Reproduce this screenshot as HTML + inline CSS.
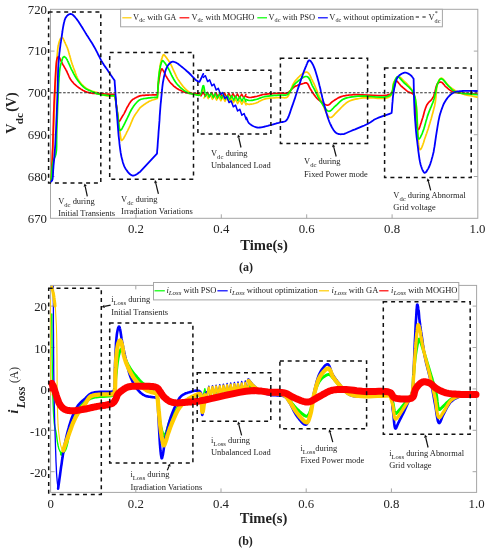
<!DOCTYPE html>
<html><head><meta charset="utf-8"><style>
html,body{margin:0;padding:0;background:#fff;}
svg{display:block;}
text{font-family:'Liberation Serif','Times New Roman',serif;fill:#222;}
</style></head><body>
<svg width="489" height="550" viewBox="0 0 489 550">
<rect width="489" height="550" fill="#fff"/>
<rect x="50.5" y="9.3" width="427.3" height="209.0" fill="none" stroke="#a6a6a6" stroke-width="1"/>
<line x1="50.5" y1="176.5" x2="54.5" y2="176.5" stroke="#a6a6a6" stroke-width="1"/>
<line x1="477.8" y1="176.5" x2="473.8" y2="176.5" stroke="#a6a6a6" stroke-width="1"/>
<line x1="50.5" y1="134.70000000000002" x2="54.5" y2="134.70000000000002" stroke="#a6a6a6" stroke-width="1"/>
<line x1="477.8" y1="134.70000000000002" x2="473.8" y2="134.70000000000002" stroke="#a6a6a6" stroke-width="1"/>
<line x1="50.5" y1="92.90000000000002" x2="54.5" y2="92.90000000000002" stroke="#a6a6a6" stroke-width="1"/>
<line x1="477.8" y1="92.90000000000002" x2="473.8" y2="92.90000000000002" stroke="#a6a6a6" stroke-width="1"/>
<line x1="50.5" y1="51.10000000000002" x2="54.5" y2="51.10000000000002" stroke="#a6a6a6" stroke-width="1"/>
<line x1="477.8" y1="51.10000000000002" x2="473.8" y2="51.10000000000002" stroke="#a6a6a6" stroke-width="1"/>
<line x1="135.9" y1="218.3" x2="135.9" y2="214.3" stroke="#a6a6a6" stroke-width="1"/>
<line x1="135.9" y1="9.3" x2="135.9" y2="13.3" stroke="#a6a6a6" stroke-width="1"/>
<line x1="221.3" y1="218.3" x2="221.3" y2="214.3" stroke="#a6a6a6" stroke-width="1"/>
<line x1="221.3" y1="9.3" x2="221.3" y2="13.3" stroke="#a6a6a6" stroke-width="1"/>
<line x1="306.7" y1="218.3" x2="306.7" y2="214.3" stroke="#a6a6a6" stroke-width="1"/>
<line x1="306.7" y1="9.3" x2="306.7" y2="13.3" stroke="#a6a6a6" stroke-width="1"/>
<line x1="392.1" y1="218.3" x2="392.1" y2="214.3" stroke="#a6a6a6" stroke-width="1"/>
<line x1="392.1" y1="9.3" x2="392.1" y2="13.3" stroke="#a6a6a6" stroke-width="1"/>
<polyline points="51.2,181.0 51.4,177.1 51.6,173.2 51.8,169.4 52.0,165.5 52.2,161.6 52.4,157.7 52.6,153.9 52.8,150.0 53.0,146.2 53.1,142.4 53.3,138.7 53.4,134.9 53.6,131.2 53.7,127.4 53.9,123.7 54.0,120.0 54.2,116.4 54.3,112.9 54.5,109.3 54.6,105.7 54.8,102.2 54.9,98.7 55.1,95.3 55.2,92.0 55.3,89.1 55.4,86.1 55.5,83.1 55.6,80.2 55.7,77.4 55.8,74.7 55.9,72.2 56.0,70.0 56.1,68.7 56.1,67.6 56.2,66.5 56.3,65.4 56.4,64.4 56.4,63.4 56.5,62.4 56.6,61.4 56.7,60.5 56.8,59.5 56.9,58.6 56.9,57.7 57.0,56.8 57.1,55.9 57.2,55.0 57.3,54.1 57.4,53.2 57.5,52.3 57.5,51.3 57.6,50.4 57.7,49.5 57.8,48.6 57.9,47.7 58.0,46.8 58.1,46.0 58.3,45.2 58.5,44.5 58.7,43.7 58.9,43.0 59.1,42.3 59.3,41.6 59.5,41.0 59.7,40.6 59.8,40.1 60.0,39.7 60.2,39.3 60.4,38.9 60.6,38.5 60.8,38.2 61.0,38.0 61.1,37.9 61.2,37.8 61.4,37.6 61.5,37.6 61.6,37.5 61.8,37.4 61.9,37.4 62.0,37.4 62.2,37.5 62.3,37.6 62.5,37.7 62.6,37.9 62.8,38.1 62.9,38.3 63.1,38.6 63.2,38.8 63.4,39.1 63.6,39.4 63.7,39.8 63.9,40.1 64.1,40.5 64.2,40.9 64.4,41.4 64.6,41.8 64.9,42.5 65.3,43.2 65.6,44.0 66.0,44.9 66.4,45.7 66.8,46.6 67.2,47.4 67.5,48.3 67.8,49.2 68.1,50.1 68.4,51.0 68.7,51.9 68.9,52.8 69.2,53.8 69.4,54.7 69.7,55.6 70.0,56.5 70.2,57.4 70.5,58.3 70.7,59.2 71.0,60.2 71.2,61.1 71.5,62.0 71.8,62.9 72.1,63.8 72.4,64.8 72.8,65.7 73.1,66.6 73.4,67.6 73.8,68.5 74.1,69.4 74.5,70.4 74.9,71.4 75.2,72.5 75.6,73.5 76.0,74.6 76.3,75.6 76.8,76.6 77.2,77.6 77.7,78.6 78.2,79.5 78.8,80.4 79.3,81.2 79.9,82.1 80.6,82.9 81.2,83.7 81.9,84.5 82.6,85.2 83.3,85.9 84.1,86.6 84.9,87.3 85.7,87.9 86.5,88.5 87.4,89.1 88.3,89.6 89.2,90.1 90.2,90.5 91.2,90.9 92.2,91.2 93.2,91.5 94.3,91.7 95.3,92.0 96.4,92.3 97.4,92.6 98.4,93.0 99.3,93.3 100.2,93.7 101.1,94.2 102.1,94.5 103.0,94.9 104.0,95.2 105.0,95.5 106.2,95.7 107.4,95.9 108.6,96.0 109.9,96.0 111.2,96.1 112.5,96.1 113.7,96.1 115.0,96.2 115.4,99.2 115.9,102.3 116.4,105.3 116.8,108.4 117.3,111.4 117.7,114.4 118.1,117.2 118.5,120.0 118.8,122.2 119.1,124.5 119.3,126.7 119.6,128.8 119.8,130.9 120.0,132.8 120.3,134.5 120.5,136.0 120.6,136.7 120.7,137.4 120.8,138.1 120.9,138.8 121.0,139.3 121.1,139.8 121.3,140.1 121.5,140.3 121.6,140.3 121.8,140.3 121.9,140.2 122.1,140.1 122.3,140.0 122.5,139.8 122.6,139.7 122.8,139.5 123.1,139.1 123.4,138.7 123.7,138.2 124.0,137.7 124.3,137.1 124.6,136.5 125.0,135.8 125.3,135.2 125.8,134.3 126.3,133.3 126.8,132.2 127.4,131.1 128.0,129.9 128.5,128.8 129.1,127.6 129.6,126.5 130.2,125.3 130.7,124.0 131.2,122.7 131.8,121.4 132.3,120.2 132.8,118.9 133.4,117.7 134.0,116.6 134.5,115.7 135.1,114.8 135.7,113.9 136.3,113.0 136.9,112.2 137.4,111.4 137.9,110.7 138.4,110.1 138.6,109.8 138.8,109.5 139.0,109.2 139.2,108.9 139.3,108.7 139.5,108.4 139.7,108.2 140.0,107.9 140.5,107.4 141.2,106.8 141.9,106.3 142.6,105.7 143.4,105.1 144.2,104.5 145.0,104.0 145.7,103.5 146.2,103.1 146.8,102.8 147.3,102.5 147.8,102.2 148.3,101.9 148.8,101.6 149.4,101.3 150.0,101.0 150.8,100.7 151.7,100.3 152.6,100.0 153.6,99.7 154.5,99.4 155.5,99.1 156.5,98.8 157.4,98.5 157.6,94.9 157.9,91.1 158.1,87.3 158.3,83.5 158.6,79.8 158.8,76.3 159.1,73.0 159.5,70.0 159.8,68.2 160.0,66.4 160.3,64.8 160.6,63.2 161.0,61.7 161.3,60.3 161.6,59.1 162.0,58.0 162.2,57.4 162.4,56.9 162.6,56.3 162.8,55.8 163.0,55.4 163.2,55.0 163.5,54.8 163.7,54.7 163.9,54.7 164.1,54.8 164.3,55.0 164.5,55.3 164.8,55.5 165.0,55.9 165.2,56.2 165.5,56.5 166.0,57.1 166.5,57.7 167.0,58.4 167.5,59.2 168.1,60.0 168.7,60.9 169.3,61.8 169.9,62.8 170.9,64.6 171.9,66.7 172.9,69.0 174.0,71.4 175.2,73.9 176.3,76.3 177.5,78.6 178.8,80.6 180.0,82.3 181.2,83.9 182.4,85.6 183.7,87.1 185.1,88.6 186.4,89.9 187.7,91.0 189.0,92.0 190.0,92.6 191.0,93.0 192.0,93.4 193.0,93.7 194.0,94.0 194.9,94.2 195.8,94.4 196.6,94.6 197.1,94.7 197.6,94.9 198.0,95.0 198.4,95.1 198.8,95.2 199.2,95.2 199.6,95.1 200.0,95.0 200.5,94.7 200.9,94.2 201.3,93.6 201.7,92.9 202.1,92.2 202.5,91.4 202.9,90.7 203.3,90.0" fill="none" stroke="#ffcc00" stroke-width="1.7" stroke-linejoin="round" stroke-linecap="round"/><polyline points="204.0,98.0 206.1,94.3 208.2,98.7 210.3,95.0 212.4,99.4 214.5,95.8 216.6,100.1 218.7,96.5 220.8,100.8 222.9,97.2 225.0,101.5 227.1,97.8 229.2,102.2 231.3,98.5 233.4,102.9 235.5,99.2 237.6,103.6 239.7,100.0 241.8,104.3 243.9,100.7 246.0,105.0" fill="none" stroke="#ffcc00" stroke-width="1.5" stroke-linejoin="round" stroke-linecap="round"/><polyline points="246.0,103.5 246.4,103.6 246.7,103.7 247.1,103.9 247.4,104.0 247.8,104.1 248.2,104.2 248.6,104.3 249.0,104.3 249.7,104.3 250.5,104.2 251.4,104.1 252.3,104.0 253.2,103.8 254.2,103.5 255.1,103.3 256.0,103.0 257.0,102.6 258.0,102.2 259.0,101.6 260.0,101.1 261.1,100.5 262.1,100.0 263.3,99.5 264.5,99.1 266.2,98.7 268.2,98.4 270.2,98.1 272.3,98.0 274.4,97.8 276.4,97.7 278.3,97.6 280.0,97.5 281.0,97.5 282.0,97.5 283.0,97.6 283.9,97.7 284.8,97.8 285.6,97.7 286.3,97.6 287.0,97.3 287.5,96.9 288.0,96.4 288.4,95.8 288.7,95.1 289.0,94.3 289.3,93.6 289.6,92.8 290.0,92.0 290.5,90.9 291.0,89.7 291.4,88.4 291.9,87.1 292.4,85.7 293.0,84.4 293.7,83.1 294.5,81.9 295.7,80.4 297.2,78.7 298.8,77.0 300.5,75.4 302.3,74.0 303.9,72.9 305.5,72.2 306.8,72.1 307.8,72.5 308.6,73.3 309.4,74.4 310.1,75.7 310.8,77.2 311.5,78.8 312.3,80.4 313.0,81.9 314.1,84.0 315.1,86.3 316.1,88.8 317.2,91.4 318.2,94.0 319.3,96.6 320.4,99.1 321.5,101.5 322.5,103.8 323.6,106.3 324.6,108.9 325.6,111.4 326.7,113.7 327.8,115.5 328.9,116.9 330.1,117.5 331.0,117.5 331.9,117.0 332.7,116.3 333.7,115.4 334.6,114.4 335.5,113.3 336.5,112.3 337.5,111.3 338.8,110.1 340.0,108.9 341.3,107.5 342.7,106.2 344.0,104.8 345.5,103.6 346.9,102.4 348.5,101.5 350.1,100.7 351.8,100.1 353.6,99.6 355.4,99.2 357.3,98.8 359.2,98.5 361.2,98.2 363.3,97.9 366.4,97.7 370.0,97.8 373.8,98.0 377.7,98.3 381.4,98.4 384.9,98.3 387.8,97.7 390.0,96.6 391.1,95.3 391.9,93.6 392.3,91.6 392.6,89.5 392.8,87.4 393.0,85.3 393.3,83.5 393.9,82.0 394.4,81.1 395.0,80.2 395.5,79.3 396.2,78.6 396.8,77.9 397.4,77.3 398.1,77.0 398.7,76.8 399.3,76.9 400.0,77.1 400.6,77.6 401.3,78.1 401.9,78.8 402.6,79.5 403.3,80.3 404.0,81.0 405.2,82.2 406.5,83.4 407.8,84.8 409.2,86.3 410.5,87.9 411.8,89.7 413.0,91.7 414.0,94.0 415.5,99.7 416.5,107.6 417.1,116.6 417.6,126.0 418.0,134.9 418.4,142.4 419.0,147.6 420.0,149.6 420.7,149.3 421.4,148.2 422.1,146.6 422.9,144.5 423.7,142.2 424.4,139.8 425.2,137.5 425.9,135.4 426.7,133.2 427.5,130.8 428.3,128.4 429.0,126.0 429.8,123.5 430.5,121.1 431.2,118.8 431.8,116.5 432.3,114.6 432.8,112.9 433.3,111.1 433.7,109.4 434.1,107.7 434.6,106.0 434.9,104.2 435.3,102.3 435.6,100.0 435.9,97.5 436.1,94.9 436.3,92.2 436.5,89.7 436.8,87.3 437.2,85.2 437.7,83.4 438.0,82.5 438.4,81.6 438.8,80.7 439.2,79.9 439.7,79.3 440.1,78.7 440.6,78.4 441.2,78.2 442.1,78.4 443.0,79.1 444.1,80.2 445.2,81.6 446.4,83.1 447.6,84.5 448.8,85.9 450.0,87.0 451.2,87.9 452.3,88.7 453.5,89.5 454.7,90.3 455.9,91.0 457.2,91.7 458.6,92.4 460.0,93.0 461.9,93.7 463.9,94.3 466.0,94.8 468.2,95.3 470.4,95.7 472.6,96.2 474.8,96.6 477.0,97.1" fill="none" stroke="#ffcc00" stroke-width="1.7" stroke-linejoin="round" stroke-linecap="round"/>
<polyline points="51.2,181.0 51.3,178.1 51.5,175.2 51.6,172.3 51.8,169.5 51.9,166.6 52.0,163.7 52.2,160.7 52.3,157.7 52.4,154.4 52.5,151.1 52.7,147.7 52.8,144.2 52.9,140.8 53.0,137.4 53.1,133.9 53.2,130.5 53.3,127.0 53.4,123.5 53.5,119.9 53.6,116.4 53.7,112.9 53.9,109.5 54.0,106.2 54.1,103.0 54.2,100.6 54.3,98.2 54.4,95.9 54.5,93.7 54.7,91.5 54.8,89.3 54.9,87.1 55.0,85.0 55.1,83.0 55.2,81.1 55.3,79.1 55.4,77.2 55.5,75.3 55.6,73.4 55.7,71.7 55.8,70.0 55.9,68.8 56.0,67.6 56.1,66.4 56.2,65.3 56.3,64.2 56.4,63.2 56.5,62.3 56.6,61.4 56.7,60.9 56.7,60.4 56.8,59.9 56.9,59.5 56.9,59.1 57.0,58.7 57.2,58.3 57.3,58.0 57.4,57.8 57.6,57.5 57.7,57.3 57.9,57.1 58.1,56.9 58.3,56.8 58.4,56.7 58.6,56.7 58.8,56.8 59.0,56.9 59.2,57.1 59.3,57.4 59.5,57.6 59.7,57.9 59.8,58.2 60.0,58.5 60.1,58.8 60.3,59.0 60.4,59.3 60.5,59.6 60.6,59.8 60.7,60.1 60.8,60.4 60.9,60.7 61.1,61.0 61.2,61.4 61.4,61.7 61.6,62.1 61.8,62.4 62.0,62.8 62.2,63.2 62.4,63.6 62.8,64.3 63.2,65.1 63.7,65.9 64.2,66.8 64.7,67.7 65.3,68.6 65.8,69.6 66.3,70.5 66.9,71.7 67.4,72.9 68.0,74.2 68.6,75.5 69.2,76.8 69.8,78.0 70.5,79.2 71.2,80.3 71.9,81.2 72.7,82.1 73.4,83.0 74.2,83.8 75.1,84.6 75.9,85.3 76.8,86.1 77.7,86.8 78.6,87.5 79.6,88.2 80.6,88.9 81.7,89.6 82.7,90.2 83.8,90.7 84.8,91.3 85.9,91.7 86.9,92.1 87.9,92.3 88.9,92.6 89.9,92.8 90.9,93.0 91.9,93.1 93.0,93.3 94.1,93.4 95.4,93.5 96.7,93.7 98.1,93.7 99.5,93.8 100.9,93.8 102.3,93.9 103.6,93.9 105.0,94.0 106.3,94.1 107.5,94.1 108.8,94.2 110.0,94.3 111.3,94.3 112.5,94.4 113.8,94.4 115.0,94.5 115.3,97.0 115.7,99.6 116.0,102.3 116.3,104.9 116.7,107.5 117.0,109.9 117.3,112.1 117.5,114.0 117.6,114.9 117.7,115.8 117.8,116.7 117.9,117.5 118.0,118.2 118.1,118.9 118.2,119.5 118.3,120.0 118.4,120.2 118.5,120.5 118.5,120.7 118.6,120.9 118.7,121.0 118.8,121.2 118.9,121.3 119.0,121.3 119.1,121.3 119.2,121.2 119.4,121.2 119.5,121.1 119.6,120.9 119.8,120.8 119.9,120.6 120.0,120.5 120.1,120.3 120.2,120.2 120.3,120.0 120.4,119.8 120.5,119.5 120.6,119.3 120.8,119.1 120.9,118.8 121.2,118.3 121.6,117.7 122.0,117.0 122.4,116.3 122.9,115.6 123.3,114.9 123.8,114.1 124.2,113.4 124.6,112.6 125.0,111.8 125.4,111.0 125.8,110.1 126.2,109.3 126.6,108.4 127.0,107.6 127.5,106.8 128.0,106.0 128.5,105.1 129.0,104.2 129.5,103.3 130.1,102.5 130.6,101.7 131.2,100.9 131.8,100.3 132.3,99.8 132.8,99.4 133.4,99.0 134.0,98.7 134.5,98.4 135.1,98.1 135.7,97.8 136.2,97.5 136.7,97.3 137.1,97.0 137.6,96.8 138.0,96.6 138.5,96.4 139.0,96.2 139.5,96.1 140.0,95.9 140.6,95.7 141.3,95.6 142.0,95.5 142.6,95.4 143.4,95.4 144.1,95.3 144.9,95.3 145.7,95.2 147.0,95.1 148.3,95.1 149.8,95.0 151.3,95.0 152.8,94.9 154.4,94.9 155.9,94.8 157.4,94.8 157.5,93.3 157.7,91.9 157.8,90.4 157.9,89.0 158.0,87.5 158.2,86.1 158.3,84.6 158.5,83.2 158.7,81.7 158.9,80.2 159.2,78.7 159.4,77.1 159.7,75.7 159.9,74.3 160.2,73.1 160.5,72.0 160.7,71.5 160.8,70.9 160.9,70.4 161.1,70.0 161.3,69.5 161.4,69.2 161.6,69.0 161.8,68.9 162.0,68.9 162.2,69.1 162.4,69.3 162.6,69.6 162.8,69.9 163.1,70.3 163.3,70.7 163.5,71.0 163.8,71.5 164.1,72.1 164.4,72.7 164.7,73.3 165.0,74.0 165.3,74.6 165.6,75.3 166.0,76.0 166.5,76.8 167.0,77.7 167.6,78.6 168.2,79.6 168.8,80.5 169.4,81.4 170.1,82.3 170.8,83.1 171.6,83.9 172.4,84.7 173.2,85.5 174.1,86.3 175.0,87.0 175.9,87.7 176.9,88.4 177.9,89.0 179.1,89.7 180.4,90.3 181.8,91.0 183.2,91.6 184.7,92.1 186.1,92.6 187.6,93.0 189.0,93.3 190.4,93.5 191.7,93.6 193.1,93.7 194.5,93.7 195.9,93.7 197.2,93.6 198.6,93.6 200.0,93.6" fill="none" stroke="#ff0000" stroke-width="1.7" stroke-linejoin="round" stroke-linecap="round"/><polyline points="201.0,96.0 203.1,92.1 205.3,96.2 207.4,92.3 209.6,96.4 211.7,92.5 213.9,96.7 216.0,92.8 218.1,96.9 220.3,93.0 222.4,97.1 224.6,93.2 226.7,97.3 228.9,93.4 231.0,97.5 233.1,93.6 235.3,97.8 237.4,93.9 239.6,98.0 241.7,94.1 243.9,98.2 246.0,94.3" fill="none" stroke="#ff0000" stroke-width="1.5" stroke-linejoin="round" stroke-linecap="round"/><polyline points="246.0,96.5 246.4,96.6 246.7,96.8 247.1,96.9 247.4,97.1 247.8,97.2 248.2,97.3 248.6,97.4 249.0,97.5 249.7,97.5 250.5,97.5 251.4,97.4 252.3,97.2 253.2,97.1 254.1,96.9 255.1,96.7 256.0,96.5 257.0,96.3 258.0,96.0 259.0,95.7 260.0,95.4 261.1,95.1 262.2,94.8 263.3,94.5 264.5,94.3 266.2,94.1 268.2,93.9 270.2,93.7 272.3,93.6 274.4,93.5 276.4,93.4 278.3,93.3 280.0,93.2 281.1,93.2 282.1,93.2 283.1,93.2 284.0,93.3 284.9,93.3 285.7,93.3 286.5,93.2 287.2,93.0 287.6,92.8 288.0,92.6 288.4,92.4 288.7,92.2 289.0,91.9 289.3,91.6 289.6,91.3 290.0,91.0 290.5,90.5 291.0,90.0 291.5,89.5 292.1,88.9 292.6,88.3 293.2,87.8 293.8,87.3 294.5,86.8 295.3,86.3 296.2,85.9 297.2,85.5 298.1,85.1 299.1,84.7 300.1,84.4 301.0,84.1 301.9,83.9 302.6,83.7 303.2,83.5 303.9,83.3 304.5,83.1 305.1,82.9 305.7,82.9 306.3,82.9 306.8,83.1 307.4,83.5 307.9,84.1 308.3,84.8 308.7,85.7 309.1,86.6 309.5,87.5 310.0,88.4 310.5,89.3 311.2,90.3 311.9,91.4 312.6,92.6 313.4,93.7 314.2,94.9 315.0,95.9 315.8,97.0 316.6,97.9 317.3,98.6 318.1,99.3 318.9,100.0 319.7,100.6 320.5,101.2 321.3,101.8 322.0,102.3 322.8,102.8 323.4,103.2 324.0,103.6 324.7,104.1 325.3,104.5 325.9,104.8 326.5,105.0 327.1,105.2 327.7,105.2 328.3,105.0 328.9,104.7 329.5,104.3 330.1,103.8 330.7,103.2 331.3,102.6 331.9,102.0 332.6,101.5 333.5,100.9 334.5,100.2 335.5,99.5 336.6,98.9 337.7,98.2 338.8,97.6 340.0,97.1 341.2,96.6 342.5,96.2 343.9,95.8 345.3,95.6 346.7,95.3 348.2,95.2 349.8,95.0 351.5,94.9 353.4,94.7 357.3,94.6 362.1,94.8 367.4,95.1 372.9,95.4 378.2,95.6 383.1,95.5 387.1,95.1 390.0,94.2 390.9,93.6 391.5,92.9 392.1,92.2 392.5,91.4 392.9,90.6 393.2,89.8 393.5,88.9 393.9,88.1 394.3,87.2 394.5,86.1 394.8,85.0 395.0,83.8 395.3,82.8 395.6,81.9 395.9,81.3 396.3,81.0 396.8,81.1 397.3,81.4 397.8,82.0 398.4,82.7 399.0,83.5 399.7,84.3 400.3,85.1 401.0,85.8 401.8,86.5 402.7,87.3 403.6,88.1 404.5,88.9 405.4,89.7 406.3,90.4 407.2,91.1 408.1,91.7 408.8,92.1 409.6,92.4 410.3,92.7 411.0,92.9 411.7,93.2 412.4,93.5 413.0,94.0 413.6,94.7 414.6,97.2 415.1,100.9 415.4,105.3 415.6,110.2 415.7,115.1 415.7,119.6 416.0,123.4 416.4,126.0 416.6,126.7 416.8,127.3 417.1,127.9 417.3,128.5 417.5,128.9 417.8,129.2 418.0,129.4 418.3,129.5 418.8,129.2 419.2,128.3 419.7,127.1 420.2,125.6 420.7,123.9 421.3,122.2 421.8,120.4 422.3,118.9 422.9,117.2 423.4,115.4 423.9,113.5 424.4,111.6 425.0,109.7 425.6,107.9 426.3,106.2 427.0,104.7 427.7,103.7 428.4,102.8 429.2,101.9 430.0,101.2 430.8,100.4 431.6,99.5 432.3,98.6 433.0,97.6 433.7,96.0 434.3,94.1 434.9,92.0 435.4,89.9 435.9,87.8 436.4,86.0 437.0,84.5 437.7,83.4 438.1,83.0 438.5,82.7 439.0,82.5 439.4,82.3 439.8,82.2 440.3,82.1 440.8,82.1 441.2,82.2 441.8,82.4 442.4,82.9 442.9,83.4 443.5,84.1 444.1,84.8 444.7,85.6 445.3,86.3 446.0,86.9 446.8,87.5 447.5,88.2 448.3,88.9 449.1,89.5 450.0,90.1 450.9,90.7 451.9,91.2 453.1,91.7 455.4,92.3 458.0,92.8 461.0,93.1 464.1,93.3 467.4,93.5 470.7,93.6 473.9,93.8 477.0,94.0" fill="none" stroke="#ff0000" stroke-width="1.7" stroke-linejoin="round" stroke-linecap="round"/>
<polyline points="51.2,181.0 51.4,178.5 51.6,175.9 51.8,173.2 52.0,170.6 52.2,168.0 52.5,165.6 52.8,163.4 53.2,161.4 53.5,160.3 53.8,159.4 54.2,158.5 54.6,157.7 55.0,156.9 55.3,156.1 55.6,155.1 55.9,154.0 56.2,151.8 56.5,149.3 56.6,146.5 56.6,143.6 56.6,140.5 56.7,137.2 56.7,133.9 56.8,130.5 57.0,125.4 57.2,119.6 57.4,113.4 57.6,107.1 57.9,100.9 58.1,94.9 58.4,89.6 58.6,85.0 58.7,82.8 58.9,80.6 59.0,78.7 59.1,76.8 59.3,75.1 59.4,73.4 59.5,71.9 59.7,70.5 59.8,69.7 59.9,68.9 60.0,68.2 60.1,67.5 60.2,66.9 60.3,66.2 60.5,65.6 60.6,65.0 60.7,64.5 60.8,64.0 61.0,63.6 61.1,63.2 61.3,62.7 61.4,62.3 61.6,61.9 61.7,61.4 61.8,60.9 62.0,60.4 62.1,59.8 62.3,59.3 62.4,58.7 62.6,58.3 62.8,57.8 63.0,57.5 63.1,57.3 63.3,57.2 63.4,57.0 63.6,56.9 63.7,56.8 63.9,56.8 64.0,56.7 64.2,56.7 64.4,56.7 64.5,56.8 64.7,56.9 64.9,57.0 65.0,57.1 65.2,57.2 65.3,57.4 65.5,57.5 65.7,57.7 65.8,57.8 66.0,58.0 66.2,58.2 66.3,58.5 66.5,58.7 66.6,58.9 66.8,59.2 67.1,59.6 67.3,60.1 67.5,60.6 67.8,61.2 68.1,61.7 68.3,62.3 68.6,63.0 68.9,63.6 69.3,64.5 69.8,65.5 70.2,66.6 70.7,67.6 71.2,68.8 71.7,69.9 72.3,70.9 72.8,72.0 73.4,73.1 73.9,74.1 74.5,75.2 75.1,76.2 75.7,77.3 76.3,78.3 77.0,79.3 77.7,80.3 78.4,81.3 79.2,82.3 80.0,83.3 80.8,84.2 81.6,85.1 82.5,86.0 83.4,86.8 84.3,87.6 85.2,88.3 86.2,88.9 87.3,89.4 88.3,89.9 89.4,90.4 90.4,90.8 91.5,91.3 92.5,91.7 93.4,92.1 94.3,92.5 95.2,92.9 96.1,93.3 97.0,93.6 97.9,93.9 98.9,94.2 100.0,94.5 101.6,94.8 103.4,95.0 105.2,95.2 107.2,95.4 109.1,95.5 111.1,95.6 113.1,95.7 115.0,95.9 115.4,98.7 115.8,101.6 116.2,104.6 116.6,107.5 117.0,110.3 117.4,113.1 117.7,115.7 118.0,118.0 118.2,119.5 118.3,120.9 118.5,122.3 118.6,123.7 118.8,124.9 118.9,126.1 119.0,127.1 119.2,128.0 119.3,128.4 119.3,128.8 119.4,129.2 119.5,129.6 119.6,129.9 119.6,130.2 119.8,130.4 119.9,130.5 120.0,130.5 120.1,130.5 120.3,130.5 120.4,130.4 120.6,130.3 120.7,130.2 120.9,130.1 121.0,130.0 121.3,129.7 121.5,129.4 121.8,129.0 122.0,128.6 122.3,128.1 122.5,127.6 122.8,127.0 123.1,126.5 123.6,125.6 124.1,124.6 124.7,123.5 125.2,122.4 125.8,121.2 126.4,120.0 126.9,118.8 127.5,117.7 128.0,116.6 128.6,115.5 129.1,114.3 129.6,113.2 130.1,112.1 130.7,111.0 131.2,110.0 131.8,109.0 132.3,108.2 132.9,107.3 133.4,106.5 133.9,105.8 134.5,105.0 135.1,104.3 135.6,103.6 136.2,103.0 136.6,102.5 137.1,102.0 137.5,101.6 137.9,101.2 138.4,100.8 138.9,100.4 139.4,100.0 140.0,99.7 141.0,99.3 142.2,99.0 143.4,98.7 144.8,98.5 146.1,98.3 147.5,98.1 148.8,97.9 150.0,97.8 151.0,97.7 151.9,97.6 152.9,97.5 153.8,97.5 154.7,97.4 155.6,97.4 156.5,97.4 157.4,97.3 157.6,94.5 157.8,91.5 157.9,88.6 158.1,85.7 158.3,82.8 158.5,80.0 158.7,77.4 159.0,75.0 159.2,73.4 159.4,71.8 159.7,70.3 159.9,68.8 160.2,67.5 160.4,66.2 160.7,65.0 161.0,64.0 161.2,63.4 161.3,62.9 161.5,62.4 161.7,61.9 161.9,61.4 162.1,61.1 162.3,60.8 162.5,60.7 162.7,60.7 162.9,60.8 163.2,61.0 163.4,61.2 163.7,61.5 164.0,61.8 164.2,62.2 164.5,62.5 165.0,63.1 165.5,63.8 166.0,64.6 166.5,65.5 167.1,66.3 167.6,67.2 168.1,68.1 168.6,69.0 169.1,69.9 169.5,70.7 169.9,71.6 170.3,72.5 170.7,73.3 171.1,74.2 171.5,75.1 172.0,76.0 172.5,77.0 173.1,78.0 173.6,79.0 174.2,80.0 174.8,81.1 175.5,82.1 176.2,83.0 177.0,84.0 178.0,85.1 179.1,86.2 180.2,87.3 181.4,88.4 182.6,89.4 183.9,90.4 185.2,91.3 186.4,92.0 187.5,92.5 188.6,93.0 189.8,93.4 191.0,93.7 192.1,94.0 193.2,94.2 194.3,94.4 195.3,94.6 196.0,94.7 196.6,94.9 197.3,95.1 197.9,95.2 198.4,95.3 199.0,95.3 199.5,95.2 200.0,95.0 200.6,94.3 201.2,93.0 201.6,91.5 202.0,89.8 202.4,88.2 202.7,86.9 203.0,85.9 203.3,85.6 203.6,85.8 203.8,86.4 204.0,87.3 204.2,88.4 204.4,89.6 204.6,90.8 204.8,92.0 205.0,93.0" fill="none" stroke="#00ff00" stroke-width="1.7" stroke-linejoin="round" stroke-linecap="round"/><polyline points="205.0,96.7 207.1,92.5 209.1,97.2 211.2,93.0 213.2,97.7 215.2,93.5 217.3,98.2 219.3,94.0 221.4,98.7 223.4,94.5 225.5,99.2 227.6,95.0 229.6,99.7 231.7,95.5 233.7,100.2 235.8,96.0 237.8,100.7 239.8,96.5 241.9,101.2 243.9,97.0 246.0,101.7" fill="none" stroke="#00ff00" stroke-width="1.5" stroke-linejoin="round" stroke-linecap="round"/><polyline points="246.0,99.5 246.4,99.6 246.7,99.8 247.1,99.9 247.4,100.1 247.8,100.2 248.2,100.3 248.6,100.4 249.0,100.5 249.7,100.5 250.5,100.5 251.4,100.4 252.3,100.3 253.2,100.1 254.1,99.9 255.1,99.7 256.0,99.5 257.0,99.2 258.0,98.9 259.0,98.5 260.0,98.1 261.1,97.7 262.2,97.3 263.3,97.0 264.5,96.7 266.2,96.4 268.2,96.1 270.2,95.8 272.3,95.6 274.4,95.4 276.4,95.3 278.3,95.1 280.0,95.0 281.0,95.0 282.0,95.0 283.0,95.1 283.9,95.1 284.8,95.2 285.6,95.1 286.3,95.0 287.0,94.8 287.5,94.5 287.9,94.2 288.3,93.8 288.6,93.4 289.0,93.0 289.3,92.5 289.6,92.0 290.0,91.5 290.5,90.7 291.0,89.9 291.5,89.0 292.0,88.1 292.5,87.1 293.1,86.2 293.7,85.3 294.5,84.4 295.7,83.2 297.2,81.8 298.8,80.4 300.6,79.1 302.3,77.9 304.0,77.0 305.5,76.5 306.8,76.5 307.8,77.0 308.7,77.8 309.4,79.0 310.2,80.5 310.8,82.0 311.5,83.7 312.2,85.3 313.0,86.8 314.0,88.7 315.0,90.7 316.1,92.8 317.1,94.9 318.2,97.1 319.3,99.1 320.4,101.1 321.5,102.8 322.4,104.1 323.3,105.5 324.2,106.9 325.2,108.3 326.1,109.4 327.0,110.4 328.0,111.0 328.9,111.3 329.7,111.2 330.4,110.9 331.1,110.3 331.9,109.6 332.6,108.8 333.4,108.0 334.2,107.1 335.0,106.4 336.0,105.5 337.0,104.6 338.0,103.6 339.0,102.6 340.0,101.6 341.1,100.7 342.3,99.8 343.6,99.1 345.2,98.4 346.8,97.9 348.5,97.5 350.3,97.1 352.1,96.8 354.1,96.6 356.2,96.3 358.3,96.1 361.9,96.0 366.1,96.1 370.7,96.5 375.3,96.9 379.9,97.1 384.0,97.1 387.5,96.5 390.0,95.4 391.1,94.3 391.8,92.9 392.3,91.4 392.7,89.7 392.9,88.0 393.2,86.3 393.5,84.8 393.9,83.4 394.3,82.4 394.7,81.3 395.1,80.2 395.5,79.2 396.0,78.3 396.4,77.6 396.9,77.1 397.5,76.8 398.1,76.9 398.8,77.2 399.5,77.8 400.2,78.6 401.0,79.4 401.8,80.4 402.6,81.3 403.4,82.2 404.6,83.4 406.0,84.5 407.4,85.8 408.9,87.1 410.3,88.6 411.7,90.2 412.9,92.0 414.0,94.0 415.3,98.7 416.2,105.1 416.7,112.4 417.1,119.9 417.3,127.1 417.6,133.1 418.0,137.3 418.8,139.0 419.2,138.9 419.6,138.5 420.0,137.9 420.5,137.1 420.9,136.2 421.4,135.2 421.9,134.1 422.3,133.1 423.0,131.2 423.8,129.1 424.5,126.7 425.2,124.2 425.9,121.6 426.7,119.0 427.4,116.4 428.2,114.1 428.9,112.1 429.7,110.2 430.5,108.2 431.3,106.4 432.0,104.5 432.8,102.6 433.5,100.7 434.1,98.8 434.6,96.8 435.1,94.8 435.5,92.6 435.9,90.5 436.2,88.5 436.7,86.6 437.1,84.9 437.7,83.4 438.1,82.6 438.5,81.8 438.9,81.0 439.3,80.3 439.7,79.7 440.2,79.2 440.7,78.8 441.2,78.7 441.9,78.9 442.8,79.4 443.6,80.3 444.6,81.4 445.5,82.5 446.4,83.7 447.4,84.9 448.3,85.8 449.1,86.6 449.9,87.4 450.7,88.2 451.5,89.0 452.3,89.8 453.2,90.5 454.2,91.1 455.4,91.7 457.5,92.4 459.9,93.0 462.6,93.4 465.4,93.7 468.3,93.9 471.3,94.1 474.2,94.4 477.0,94.7" fill="none" stroke="#00ff00" stroke-width="1.7" stroke-linejoin="round" stroke-linecap="round"/>
<polyline points="51.2,181.5 51.3,181.4 51.5,181.2 51.6,181.1 51.7,181.0 51.8,180.9 52.0,180.7 52.1,180.5 52.2,180.3 52.5,179.3 52.7,177.9 52.9,176.2 53.0,174.2 53.1,172.2 53.2,170.0 53.4,168.0 53.5,166.0 53.7,164.0 53.9,161.9 54.1,159.9 54.3,157.8 54.4,155.7 54.6,153.4 54.8,151.1 55.0,148.6 55.3,144.6 55.5,140.2 55.7,135.6 56.0,130.7 56.2,125.8 56.4,121.1 56.6,116.5 56.8,112.3 56.9,109.3 57.0,106.4 57.1,103.6 57.2,100.9 57.3,98.2 57.4,95.5 57.5,92.8 57.6,90.0 57.7,86.9 57.8,83.8 57.8,80.6 57.9,77.3 58.0,74.1 58.1,71.0 58.2,67.9 58.4,65.0 58.6,62.6 58.8,60.2 59.0,57.8 59.2,55.5 59.4,53.2 59.7,51.0 59.9,48.9 60.2,46.8 60.4,45.1 60.6,43.5 60.9,41.9 61.1,40.4 61.3,38.9 61.6,37.4 61.8,35.9 62.0,34.5 62.2,33.2 62.4,32.0 62.5,30.8 62.7,29.6 62.9,28.4 63.1,27.2 63.3,26.1 63.5,25.0 63.7,24.0 63.9,23.1 64.1,22.1 64.4,21.2 64.6,20.3 64.9,19.5 65.2,18.7 65.5,18.0 65.8,17.5 66.1,17.1 66.4,16.7 66.7,16.3 67.0,15.9 67.3,15.6 67.7,15.3 68.0,15.0 68.3,14.8 68.6,14.6 68.9,14.5 69.2,14.3 69.5,14.2 69.8,14.1 70.1,14.0 70.4,14.0 70.7,14.0 70.9,14.0 71.2,14.1 71.5,14.1 71.7,14.2 72.0,14.3 72.3,14.5 72.5,14.6 72.8,14.8 73.0,15.0 73.3,15.2 73.5,15.4 73.7,15.7 74.0,15.9 74.2,16.2 74.5,16.5 74.9,16.9 75.2,17.3 75.6,17.8 76.0,18.2 76.4,18.7 76.8,19.3 77.2,19.9 77.7,20.5 78.6,21.8 79.5,23.2 80.5,24.8 81.6,26.6 82.7,28.3 83.8,30.1 84.9,31.9 85.9,33.6 86.9,35.2 88.0,36.8 89.0,38.4 90.0,40.1 91.1,41.7 92.1,43.3 93.1,45.0 94.1,46.7 95.2,48.6 96.2,50.6 97.3,52.7 98.3,54.8 99.4,56.8 100.4,58.8 101.3,60.6 102.3,62.3 102.9,63.3 103.6,64.3 104.1,65.2 104.7,66.0 105.3,66.9 105.9,67.7 106.5,68.6 107.2,69.6 108.1,70.9 108.9,72.2 109.9,73.6 110.8,75.0 111.8,76.4 112.7,77.8 113.7,79.2 114.6,80.6 114.8,84.1 115.1,87.6 115.3,91.1 115.5,94.5 115.8,98.0 116.0,101.5 116.2,105.0 116.5,108.6 116.8,112.4 117.1,116.3 117.4,120.3 117.7,124.2 118.0,128.1 118.3,131.9 118.6,135.6 119.0,139.0 119.3,141.5 119.5,143.9 119.8,146.3 120.1,148.6 120.4,150.8 120.7,152.9 121.1,155.0 121.5,157.0 121.9,158.6 122.3,160.1 122.7,161.7 123.1,163.1 123.6,164.5 124.1,165.9 124.7,167.2 125.4,168.4 126.1,169.5 126.8,170.5 127.6,171.6 128.4,172.6 129.3,173.5 130.1,174.3 130.9,174.9 131.7,175.3 132.1,175.5 132.5,175.5 132.9,175.6 133.3,175.6 133.8,175.5 134.2,175.4 134.6,175.3 135.0,175.2 135.6,175.0 136.2,174.6 136.8,174.2 137.5,173.8 138.1,173.3 138.7,172.8 139.4,172.3 140.0,171.9 157.0,153.7 157.2,150.5 157.5,147.4 157.7,144.2 157.9,141.0 158.2,137.9 158.4,134.7 158.6,131.4 158.9,128.1 159.2,124.3 159.5,120.4 159.7,116.4 160.0,112.4 160.3,108.4 160.6,104.5 161.0,100.8 161.3,97.3 161.6,94.7 161.8,92.1 162.1,89.7 162.3,87.3 162.6,84.9 162.9,82.7 163.3,80.5 163.7,78.4 164.0,76.7 164.4,75.1 164.8,73.5 165.1,71.9 165.6,70.4 166.1,69.0 166.6,67.8 167.2,66.6 167.7,65.8 168.2,65.0 168.8,64.3 169.4,63.6 170.1,63.0 170.7,62.4 171.3,62.1 172.0,61.8 172.6,61.7 173.2,61.7 173.8,61.8 174.4,62.0 175.0,62.2 175.6,62.5 176.2,62.7 176.7,63.0 177.1,63.2 177.6,63.5 177.9,63.7 178.3,64.0 178.7,64.3 179.1,64.7 179.5,65.0 180.0,65.4 180.9,66.1 182.0,67.0 183.1,67.9 184.3,68.9 185.5,69.9 186.7,71.0 187.9,72.0 189.0,73.0 190.0,74.0 191.0,75.0 192.0,76.1 193.0,77.2 194.0,78.2 194.9,79.2 195.8,80.0 196.6,80.6 197.0,80.8 197.4,81.0 197.7,81.2 198.1,81.3 198.4,81.4 198.8,81.5 199.1,81.7 199.5,81.8 203.3,73.9" fill="none" stroke="#0000ff" stroke-width="1.8" stroke-linejoin="round" stroke-linecap="round"/><polyline points="203.3,77.4 205.4,75.7 207.6,81.6 209.7,79.9 211.9,85.8 214.0,84.1 216.2,90.0 218.3,88.3 220.5,94.2 222.6,92.5 224.8,98.4 226.9,96.7 229.0,102.6 231.2,100.9 233.3,106.8 235.5,105.1 237.6,111.0 239.8,109.3 241.9,115.2 244.1,113.5 246.2,119.4" fill="none" stroke="#0000ff" stroke-width="1.5" stroke-linejoin="round" stroke-linecap="round"/><polyline points="246.2,117.5 246.6,118.3 246.9,119.0 247.2,119.8 247.5,120.6 247.9,121.3 248.3,122.1 248.7,122.8 249.3,123.4 250.1,124.1 251.0,124.8 252.0,125.4 253.0,126.0 254.1,126.5 255.2,126.9 256.4,127.3 257.5,127.5 258.7,127.6 259.9,127.5 261.2,127.4 262.5,127.1 263.7,126.8 265.1,126.5 266.4,126.1 267.7,125.8 269.2,125.4 270.8,125.0 272.4,124.6 274.1,124.1 275.7,123.7 277.2,123.2 278.7,122.8 280.0,122.4 280.9,122.2 281.7,122.1 282.5,122.0 283.2,121.9 284.0,121.7 284.7,121.5 285.3,121.2 286.0,120.7 287.0,119.6 287.8,118.2 288.6,116.5 289.3,114.6 290.0,112.6 290.7,110.5 291.4,108.4 292.1,106.4 293.0,103.9 293.9,101.2 294.9,98.4 295.8,95.5 296.7,92.7 297.6,89.8 298.5,87.1 299.4,84.4 300.2,82.1 301.0,79.8 301.8,77.4 302.6,75.2 303.3,73.0 304.1,70.9 304.9,68.9 305.6,67.2 306.1,66.1 306.5,64.9 307.0,63.8 307.4,62.7 307.9,61.8 308.3,61.0 308.8,60.5 309.3,60.3 309.7,60.4 310.2,60.7 310.6,61.1 311.1,61.7 311.6,62.4 312.0,63.1 312.5,63.9 312.9,64.7 313.6,66.1 314.2,67.6 314.9,69.4 315.5,71.2 316.1,73.2 316.7,75.2 317.3,77.3 317.9,79.4 318.7,82.2 319.4,85.2 320.2,88.3 320.9,91.5 321.7,94.7 322.4,97.9 323.2,101.0 324.0,104.0 324.7,106.6 325.4,109.3 326.1,111.9 326.9,114.4 327.6,116.9 328.4,119.3 329.2,121.5 330.1,123.6 330.8,125.0 331.5,126.5 332.2,127.8 333.0,129.1 333.7,130.3 334.6,131.4 335.4,132.3 336.3,133.0 337.0,133.4 337.7,133.7 338.5,134.0 339.2,134.1 340.0,134.2 340.8,134.3 341.6,134.2 342.4,134.2 343.4,134.1 344.4,133.8 345.4,133.4 346.4,133.0 347.5,132.5 348.6,132.0 349.8,131.5 351.0,131.0 352.9,130.2 355.1,129.4 357.4,128.4 359.8,127.4 362.1,126.4 364.3,125.5 366.4,124.5 368.2,123.6 369.2,123.0 370.1,122.5 370.9,122.0 371.6,121.4 372.3,120.9 373.1,120.4 374.0,119.8 375.0,119.3 376.7,118.5 378.6,117.7 380.7,116.9 382.8,116.1 385.0,115.4 387.3,114.6 389.5,113.8 391.6,113.0 391.9,110.1 392.1,107.2 392.3,104.3 392.6,101.4 392.8,98.5 393.1,95.7 393.5,93.0 393.9,90.5 394.2,88.6 394.6,86.8 395.0,85.0 395.4,83.2 395.8,81.6 396.3,80.1 396.8,78.7 397.5,77.5 398.0,76.8 398.5,76.1 399.1,75.6 399.7,75.0 400.4,74.6 401.0,74.2 401.6,73.8 402.2,73.5 402.6,73.3 403.1,73.1 403.5,72.9 404.0,72.8 404.4,72.7 404.9,72.7 405.3,72.7 405.8,72.7 406.4,72.8 407.0,73.0 407.6,73.3 408.2,73.6 408.8,73.9 409.4,74.3 410.0,74.7 410.5,75.1 411.0,75.5 411.4,75.9 411.8,76.4 412.1,76.8 412.5,77.3 412.9,77.8 413.2,78.2 413.6,78.7 413.7,83.1 413.8,87.6 413.9,92.1 414.0,96.6 414.1,101.0 414.3,105.4 414.5,109.8 414.7,114.1 415.0,118.1 415.3,122.1 415.6,126.1 415.9,130.0 416.3,133.9 416.7,137.7 417.2,141.3 417.6,144.9 418.0,147.8 418.3,150.8 418.7,153.7 419.1,156.6 419.5,159.3 420.0,161.9 420.5,164.2 421.1,166.2 421.5,167.3 421.9,168.5 422.3,169.5 422.8,170.6 423.3,171.4 423.7,172.1 424.2,172.6 424.7,172.8 425.1,172.7 425.6,172.5 426.0,172.0 426.5,171.5 426.9,170.8 427.3,170.1 427.8,169.3 428.2,168.6 428.9,167.3 429.5,165.8 430.2,164.1 430.8,162.3 431.4,160.4 431.9,158.4 432.5,156.4 433.0,154.4 433.6,152.0 434.0,149.4 434.5,146.7 434.9,144.0 435.3,141.2 435.7,138.4 436.1,135.7 436.5,133.1 436.9,130.6 437.3,128.2 437.7,125.7 438.1,123.3 438.5,120.9 439.0,118.6 439.5,116.3 440.1,114.1 440.7,112.2 441.3,110.3 442.0,108.4 442.7,106.5 443.4,104.7 444.2,103.0 445.1,101.5 446.0,100.0 446.8,98.9 447.6,97.8 448.4,96.8 449.3,95.9 450.2,95.0 451.1,94.2 452.1,93.5 453.1,92.9 454.1,92.4 455.2,92.0 456.4,91.7 457.5,91.5 458.7,91.4 459.9,91.2 461.2,91.1 462.5,91.0 464.2,90.9 465.9,90.8 467.7,90.8 469.5,90.8 471.4,90.9 473.3,90.9 475.2,91.0 477.0,91.0" fill="none" stroke="#0000ff" stroke-width="1.8" stroke-linejoin="round" stroke-linecap="round"/>
<line x1="50.5" y1="92.8" x2="477.8" y2="92.8" stroke="#333" stroke-width="1.1" stroke-dasharray="2.6,1.6"/>
<rect x="48.6" y="11.9" width="52.199999999999996" height="171.1" fill="none" stroke="#111" stroke-width="1.5" stroke-dasharray="4.0,3.8"/>
<rect x="109.7" y="52.6" width="83.8" height="126.6" fill="none" stroke="#111" stroke-width="1.5" stroke-dasharray="4.0,3.8"/>
<rect x="197.9" y="70.3" width="72.99999999999997" height="63.60000000000001" fill="none" stroke="#111" stroke-width="1.5" stroke-dasharray="4.0,3.8"/>
<rect x="280.4" y="58.2" width="87.20000000000005" height="85.2" fill="none" stroke="#111" stroke-width="1.5" stroke-dasharray="4.0,3.8"/>
<rect x="384.6" y="67.9" width="86.59999999999997" height="109.6" fill="none" stroke="#111" stroke-width="1.5" stroke-dasharray="4.0,3.8"/>
<line x1="87.3" y1="196.4" x2="85.2" y2="186.3" stroke="#111" stroke-width="1.2"/><polygon points="84.6,183.4 86.8,186.0 83.6,186.7" fill="#111"/>
<line x1="158.4" y1="193.8" x2="155.7" y2="182.9" stroke="#111" stroke-width="1.2"/><polygon points="155.0,180.0 157.3,182.5 154.2,183.3" fill="#111"/>
<line x1="241.0" y1="147.5" x2="238.7" y2="137.3" stroke="#111" stroke-width="1.2"/><polygon points="238.1,134.4 240.3,137.0 237.2,137.7" fill="#111"/>
<line x1="336.2" y1="156.5" x2="333.7" y2="146.9" stroke="#111" stroke-width="1.2"/><polygon points="332.9,144.0 335.2,146.5 332.1,147.3" fill="#111"/>
<line x1="430.7" y1="190.4" x2="428.3" y2="181.1" stroke="#111" stroke-width="1.2"/><polygon points="427.5,178.2 429.8,180.7 426.7,181.5" fill="#111"/>
<rect x="120.6" y="9.3" width="321.8" height="17.5" fill="#fff" stroke="#a6a6a6" stroke-width="1"/>
<line x1="122.3" y1="17.8" x2="131.5" y2="17.8" stroke="#ffcc00" stroke-width="1.2"/>
<line x1="179.5" y1="17.8" x2="189.3" y2="17.8" stroke="#ff0000" stroke-width="1.2"/>
<line x1="257.3" y1="17.8" x2="267" y2="17.8" stroke="#00ff00" stroke-width="1.2"/>
<line x1="318" y1="17.8" x2="327.8" y2="17.8" stroke="#0000ff" stroke-width="1.2"/>
<line x1="415.7" y1="17" x2="426" y2="17" stroke="#111" stroke-width="1.2" stroke-dasharray="3.3,3.4"/>
<text x="133.1" y="19.9" font-size="8.45">V<tspan font-size="6.2" dy="2.4">dc</tspan><tspan dy="-2.4"> with GA</tspan></text>
<text x="191.4" y="19.9" font-size="8.45">V<tspan font-size="6.2" dy="2.4">dc</tspan><tspan dy="-2.4"> with MOGHO</tspan></text>
<text x="268.5" y="19.9" font-size="8.45">V<tspan font-size="6.2" dy="2.4">dc</tspan><tspan dy="-2.4"> with PSO</tspan></text>
<text x="329.3" y="19.9" font-size="8.45">V<tspan font-size="6.2" dy="2.4">dc</tspan><tspan dy="-2.4"> without optimization</tspan></text>
<text x="428.6" y="19.9" font-size="8.45">V<tspan font-size="6.2" dy="-4.5">*</tspan><tspan font-size="6.2" dx="-3.2" dy="7.2">dc</tspan></text>
<rect x="50.6" y="285.4" width="426.0" height="207.0" fill="none" stroke="#a6a6a6" stroke-width="1"/>
<line x1="50.6" y1="471.7" x2="54.6" y2="471.7" stroke="#a6a6a6" stroke-width="1"/>
<line x1="476.6" y1="471.7" x2="472.6" y2="471.7" stroke="#a6a6a6" stroke-width="1"/>
<line x1="50.6" y1="430.29999999999995" x2="54.6" y2="430.29999999999995" stroke="#a6a6a6" stroke-width="1"/>
<line x1="476.6" y1="430.29999999999995" x2="472.6" y2="430.29999999999995" stroke="#a6a6a6" stroke-width="1"/>
<line x1="50.6" y1="388.9" x2="54.6" y2="388.9" stroke="#a6a6a6" stroke-width="1"/>
<line x1="476.6" y1="388.9" x2="472.6" y2="388.9" stroke="#a6a6a6" stroke-width="1"/>
<line x1="50.6" y1="347.5" x2="54.6" y2="347.5" stroke="#a6a6a6" stroke-width="1"/>
<line x1="476.6" y1="347.5" x2="472.6" y2="347.5" stroke="#a6a6a6" stroke-width="1"/>
<line x1="50.6" y1="306.09999999999997" x2="54.6" y2="306.09999999999997" stroke="#a6a6a6" stroke-width="1"/>
<line x1="476.6" y1="306.09999999999997" x2="472.6" y2="306.09999999999997" stroke="#a6a6a6" stroke-width="1"/>
<line x1="135.8" y1="492.4" x2="135.8" y2="488.4" stroke="#a6a6a6" stroke-width="1"/>
<line x1="135.8" y1="285.4" x2="135.8" y2="289.4" stroke="#a6a6a6" stroke-width="1"/>
<line x1="221.0" y1="492.4" x2="221.0" y2="488.4" stroke="#a6a6a6" stroke-width="1"/>
<line x1="221.0" y1="285.4" x2="221.0" y2="289.4" stroke="#a6a6a6" stroke-width="1"/>
<line x1="306.2" y1="492.4" x2="306.2" y2="488.4" stroke="#a6a6a6" stroke-width="1"/>
<line x1="306.2" y1="285.4" x2="306.2" y2="289.4" stroke="#a6a6a6" stroke-width="1"/>
<line x1="391.40000000000003" y1="492.4" x2="391.40000000000003" y2="488.4" stroke="#a6a6a6" stroke-width="1"/>
<line x1="391.40000000000003" y1="285.4" x2="391.40000000000003" y2="289.4" stroke="#a6a6a6" stroke-width="1"/>
<polyline points="51.8,314.0 51.8,319.8 51.9,325.6 51.9,331.4 52.0,337.2 52.0,343.0 52.1,348.7 52.1,354.4 52.2,360.0 52.3,365.2 52.3,370.4 52.4,375.6 52.5,380.8 52.6,385.8 52.7,390.7 52.8,395.5 53.0,400.0 53.1,403.5 53.3,407.1 53.4,410.5 53.6,413.9 53.8,417.1 54.0,420.0 54.2,422.7 54.5,425.0 54.7,426.0 54.8,426.8 55.0,427.6 55.2,428.3 55.3,429.0 55.5,429.7 55.7,430.5 55.9,431.4 56.2,433.1 56.5,435.1 56.8,437.3 57.1,439.6 57.4,441.8 57.8,444.0 58.2,446.0 58.6,447.7 58.9,448.7 59.2,449.5 59.6,450.3 59.9,451.1 60.3,451.8 60.7,452.6 61.0,453.3 61.4,454.1" fill="none" stroke="#00ff00" stroke-width="1.4" stroke-linejoin="round" stroke-linecap="round"/><polyline points="61.4,454.1 61.9,453.6 62.3,453.0 62.8,452.6 63.2,452.1 63.7,451.5 64.1,450.9 64.6,450.3 65.0,449.5 65.7,447.7 66.3,445.6 66.9,443.2 67.5,440.6 68.0,437.9 68.6,435.2 69.3,432.5 70.0,430.0 70.8,427.4 71.6,424.8 72.5,422.2 73.4,419.5 74.4,417.0 75.5,414.5 76.7,412.1 78.0,410.0 79.3,408.2 80.6,406.5 82.0,404.9 83.5,403.3 85.1,401.9 86.8,400.6 88.6,399.4 90.5,398.4 93.1,397.5 96.2,396.9 99.6,396.6 103.0,396.4 106.3,396.3 109.3,396.1 111.6,395.7 113.2,395.0 113.6,394.7 113.8,394.4 114.0,394.1 114.1,393.7 114.2,393.4 114.3,393.0 114.4,392.5 114.5,392.0 114.8,390.6 115.0,388.8 115.2,386.7 115.3,384.4 115.5,382.1 115.6,379.6 115.8,377.3 116.0,375.0 116.3,372.6 116.5,370.1 116.8,367.5 117.1,364.9 117.4,362.4 117.8,360.0 118.1,357.9 118.5,356.0 118.7,355.0 119.0,354.1 119.2,353.2 119.4,352.4 119.7,351.7 120.0,351.0 120.2,350.5 120.5,350.0 120.6,349.8 120.8,349.6 120.9,349.5 121.0,349.3 121.2,349.2 121.3,349.1 121.5,349.1 121.6,349.1 121.8,349.2 122.0,349.4 122.1,349.6 122.3,349.9 122.5,350.3 122.6,350.7 122.8,351.1 123.0,351.5 123.3,352.4 123.7,353.4 124.0,354.5 124.3,355.7 124.7,357.0 125.1,358.3 125.5,359.5 126.0,360.7 126.6,362.0 127.3,363.3 128.0,364.7 128.8,366.0 129.5,367.4 130.3,368.6 131.1,369.8 131.8,370.9 132.3,371.6 132.9,372.3 133.4,373.0 133.9,373.6 134.4,374.2 134.9,374.8 135.5,375.4 136.0,376.0 136.6,376.7 137.1,377.4 137.7,378.1 138.3,378.8 138.9,379.5 139.5,380.2 140.1,380.9 140.7,381.5 141.2,382.0 141.7,382.4 142.3,382.9 142.8,383.3 143.3,383.7 143.8,384.1 144.4,384.5 144.9,385.0 145.5,385.6 146.1,386.2 146.7,386.8 147.3,387.5 148.0,388.2 148.6,388.8 149.3,389.4 150.0,390.0 150.8,390.6 151.7,391.1 152.7,391.5 153.7,392.0 154.6,392.5 155.5,393.0 156.2,393.5 156.7,394.0 156.9,394.3 157.1,394.7 157.2,395.0 157.2,395.4 157.3,395.8 157.3,396.1 157.3,396.6 157.4,397.0 157.5,397.8 157.6,398.6 157.7,399.4 157.8,400.4 157.9,401.3 158.0,402.3 158.1,403.4 158.2,404.5 158.4,406.3 158.5,408.2 158.7,410.3 158.9,412.4 159.1,414.6 159.3,416.8 159.5,418.9 159.8,420.8 160.1,422.4 160.3,424.0 160.6,425.5 160.9,427.1 161.2,428.5 161.6,429.9 161.9,431.2 162.3,432.3 162.5,433.0 162.8,433.7 163.1,434.4 163.3,435.0 163.6,435.6 163.9,436.0 164.1,436.3 164.4,436.4 164.7,436.3 164.9,436.0 165.2,435.5 165.4,434.9 165.7,434.2 165.9,433.5 166.2,432.7 166.5,432.0 167.0,430.6 167.5,428.9 168.0,427.1 168.6,425.1 169.2,423.1 169.8,421.2 170.5,419.3 171.2,417.6 171.9,416.2 172.6,414.9 173.4,413.6 174.2,412.3 175.1,411.1 175.9,410.0 176.9,408.9 177.8,407.8 178.7,406.8 179.7,405.9 180.7,405.1 181.8,404.2 182.9,403.4 183.9,402.7 185.0,401.9 186.0,401.2 186.9,400.6 187.8,400.0 188.6,399.4 189.5,398.9 190.4,398.4 191.2,397.9 192.1,397.4 193.0,397.0 193.9,396.6 194.7,396.3 195.6,396.0 196.5,395.7 197.4,395.4 198.2,395.1 199.1,394.8 200.0,394.5" fill="none" stroke="#00ff00" stroke-width="3" stroke-linejoin="round" stroke-linecap="round"/><polyline points="203.0,397.0 204.8,388.8 206.7,396.6 208.5,388.4 210.4,396.2 212.2,388.0 214.0,395.8 215.9,387.6 217.7,395.4 219.6,387.2 221.4,395.0 223.2,386.8 225.1,394.6 226.9,386.4 228.8,394.2 230.6,386.0 232.4,393.8 234.3,385.6 236.1,393.4 238.0,385.2 239.8,393.0 241.6,384.8 243.5,392.6 245.3,384.4 247.2,392.2 249.0,384.0" fill="none" stroke="#00ff00" stroke-width="1.5" stroke-linejoin="round" stroke-linecap="round"/><polyline points="249.0,386.0 250.6,386.8 252.2,387.6 253.7,388.4 255.2,389.2 256.8,390.0 258.5,390.7 260.2,391.4 262.0,392.0 264.5,392.6 267.4,392.9 270.5,393.1 273.6,393.3 276.6,393.5 279.5,393.8 282.0,394.3 284.0,395.0 285.0,395.5 285.8,396.1 286.5,396.8 287.1,397.5 287.7,398.2 288.3,399.0 288.9,399.7 289.6,400.5 290.5,401.5 291.4,402.5 292.2,403.6 293.1,404.7 294.0,405.8 295.0,406.9 296.0,408.0 297.0,409.0 298.2,410.1 299.4,411.3 300.8,412.6 302.1,413.8 303.5,414.8 304.7,415.7 305.8,416.2 306.8,416.3 307.3,416.1 307.8,415.8 308.2,415.4 308.6,414.8 309.0,414.2 309.3,413.5 309.6,412.8 310.0,412.0 310.6,410.3 311.2,408.2 311.7,405.7 312.2,403.1 312.7,400.4 313.3,397.8 313.8,395.3 314.5,393.0 315.1,391.2 315.7,389.4 316.3,387.6 317.0,385.9 317.7,384.2 318.5,382.7 319.3,381.3 320.3,380.0 321.2,379.0 322.3,378.0 323.4,377.0 324.6,376.2 325.8,375.5 326.9,374.9 328.0,374.6 328.9,374.5 329.5,374.6 330.0,374.9 330.6,375.3 331.0,375.8 331.5,376.3 332.0,376.9 332.5,377.4 333.0,378.0 333.7,378.7 334.4,379.6 335.1,380.4 335.8,381.3 336.6,382.3 337.3,383.2 338.1,384.1 339.0,385.0 340.0,386.0 341.0,387.1 342.0,388.2 343.0,389.3 344.1,390.4 345.4,391.3 346.8,392.2 348.5,393.0 352.5,393.9 357.8,394.2 363.9,394.1 370.4,393.8 376.7,393.5 382.4,393.5 387.0,393.9 390.0,395.0 390.8,395.7 391.3,396.4 391.7,397.3 391.9,398.1 392.1,399.1 392.3,400.0 392.4,401.0 392.7,402.0 393.1,403.4 393.4,405.2 393.7,407.0 394.0,408.9 394.3,410.6 394.6,412.1 395.0,413.1 395.5,413.6 395.8,413.6 396.2,413.5 396.5,413.2 396.9,412.8 397.3,412.4 397.7,411.9 398.1,411.5 398.5,411.0 399.2,410.2 400.0,409.3 400.8,408.4 401.6,407.3 402.5,406.2 403.3,405.2 404.2,404.1 405.0,403.0 405.9,401.9 406.8,400.9 407.8,399.9 408.7,398.8 409.6,397.8 410.4,396.6 411.2,395.4 411.8,394.0 412.4,392.0 412.8,389.9 413.0,387.6 413.1,385.1 413.2,382.6 413.2,380.1 413.3,377.5 413.5,375.0 413.8,372.2 414.0,369.2 414.3,366.2 414.6,363.2 414.9,360.2 415.2,357.3 415.6,354.6 416.0,352.0 416.3,350.0 416.7,347.9 417.1,345.8 417.5,343.7 417.9,341.9 418.3,340.5 418.7,339.5 419.1,339.1 419.3,339.2 419.6,339.5 419.8,339.9 420.0,340.4 420.3,341.1 420.5,341.7 420.8,342.4 421.0,343.0 421.3,343.8 421.6,344.7 421.9,345.6 422.2,346.6 422.6,347.6 422.9,348.7 423.2,349.8 423.6,351.0 424.2,352.9 424.9,355.1 425.6,357.3 426.3,359.7 427.0,362.1 427.7,364.5 428.4,366.8 429.1,369.0 429.6,370.7 430.1,372.4 430.6,374.0 431.1,375.6 431.6,377.2 432.1,378.8 432.5,380.4 433.0,382.0 433.5,383.6 433.9,385.1 434.3,386.6 434.8,388.2 435.2,389.7 435.6,391.3 436.0,392.9 436.4,394.5 436.7,396.5 437.0,398.8 437.2,401.2 437.5,403.5 437.7,405.7 438.1,407.5 438.5,408.9 439.1,409.5 439.5,409.5 440.0,409.3 440.5,408.9 441.1,408.4 441.7,407.8 442.3,407.2 442.9,406.6 443.5,406.0 444.4,405.2 445.3,404.3 446.2,403.4 447.2,402.4 448.2,401.5 449.2,400.6 450.3,399.7 451.4,399.0 452.6,398.4 453.9,397.8 455.2,397.3 456.6,396.8 458.0,396.4 459.4,396.0 460.8,395.8 462.3,395.5 463.9,395.3 465.6,395.2 467.3,395.2 469.0,395.2 470.8,395.3 472.5,395.4 474.3,395.5 476.0,395.5" fill="none" stroke="#00ff00" stroke-width="3" stroke-linejoin="round" stroke-linecap="round"/>
<polyline points="53.3,286.5 53.3,293.2 53.3,299.9 53.4,306.5 53.4,313.2 53.4,319.9 53.4,326.6 53.5,333.3 53.5,340.0 53.6,346.9 53.6,354.0 53.7,361.1 53.7,368.2 53.8,375.2 53.9,382.0 54.0,388.7 54.1,395.0 54.2,399.9 54.3,404.5 54.4,409.0 54.5,413.4 54.6,417.8 54.7,422.2 54.9,426.7 55.0,431.4 55.2,437.0 55.4,443.1 55.6,449.4 55.8,455.6 56.0,461.7 56.3,467.4 56.5,472.5 56.8,476.8 57.0,478.6 57.1,480.3 57.3,481.8 57.4,483.2 57.6,484.5 57.8,485.8 57.9,487.2 58.1,488.6" fill="none" stroke="#0000ff" stroke-width="1.3" stroke-linejoin="round" stroke-linecap="round"/><polyline points="58.1,488.6 58.4,486.5 58.7,484.3 59.0,482.2 59.3,480.0 59.6,477.9 59.9,475.7 60.2,473.6 60.5,471.4 60.8,469.1 61.1,466.9 61.5,464.6 61.8,462.3 62.1,460.0 62.5,457.8 62.8,455.5 63.2,453.2 63.6,450.9 64.0,448.6 64.4,446.4 64.8,444.1 65.3,441.8 65.8,439.5 66.3,437.3 66.8,435.0 67.4,432.7 68.0,430.3 68.7,427.9 69.3,425.6 70.1,423.2 70.8,421.0 71.5,418.8 72.3,416.8 72.9,415.3 73.5,413.8 74.1,412.3 74.8,411.0 75.4,409.6 76.1,408.3 76.9,407.1 77.7,405.9 78.5,404.9 79.4,403.9 80.3,402.9 81.2,402.0 82.1,401.1 83.1,400.3 84.1,399.4 85.0,398.6 85.8,397.8 86.6,397.0 87.4,396.3 88.2,395.5 89.0,394.8 89.9,394.1 90.9,393.5 92.0,393.0 94.2,392.4 97.1,392.1 100.3,391.9 103.6,391.9 106.8,391.8 109.6,391.8 111.8,391.6 113.2,391.2 113.4,391.1 113.6,391.0 113.7,390.9 113.8,390.7 113.9,390.6 113.9,390.4 114.0,390.2 114.1,390.0 114.4,388.4 114.7,385.8 114.8,382.6 114.9,378.9 114.9,375.0 114.9,371.0 115.0,367.1 115.1,363.6 115.2,360.2 115.4,356.7 115.5,353.2 115.7,349.7 115.9,346.3 116.0,343.1 116.3,340.1 116.5,337.5 116.7,336.1 116.8,334.8 117.0,333.5 117.2,332.3 117.4,331.2 117.6,330.2 117.8,329.3 118.0,328.5 118.1,328.1 118.2,327.8 118.4,327.5 118.5,327.1 118.6,326.9 118.8,326.7 118.9,326.5 119.0,326.5 119.1,326.6 119.3,326.7 119.4,327.0 119.5,327.3 119.6,327.7 119.8,328.1 119.9,328.6 120.0,329.0 120.2,329.9 120.4,331.0 120.6,332.1 120.8,333.4 121.0,334.8 121.2,336.1 121.4,337.5 121.6,338.9 121.9,340.6 122.2,342.4 122.6,344.2 123.0,346.1 123.3,348.0 123.7,349.8 124.1,351.7 124.5,353.5 124.9,355.2 125.2,356.8 125.6,358.5 126.0,360.2 126.3,361.8 126.7,363.4 127.1,365.0 127.5,366.5 127.8,367.8 128.2,369.2 128.5,370.5 128.8,371.7 129.2,373.0 129.6,374.3 130.0,375.5 130.4,376.7 130.9,377.9 131.4,379.0 131.9,380.2 132.4,381.3 133.0,382.4 133.5,383.5 134.1,384.5 134.7,385.5 135.2,386.3 135.7,387.1 136.2,387.9 136.8,388.6 137.3,389.3 137.9,390.0 138.5,390.7 139.1,391.3 139.8,391.9 140.4,392.6 141.2,393.2 141.9,393.7 142.6,394.3 143.4,394.8 144.2,395.2 144.9,395.6 145.5,395.9 146.2,396.1 146.8,396.2 147.4,396.4 148.1,396.5 148.7,396.6 149.4,396.7 150.0,396.8 150.7,396.9 151.4,397.0 152.1,397.1 152.9,397.2 153.6,397.3 154.3,397.4 154.9,397.5 155.4,397.6 155.7,397.6 155.9,397.6 156.2,397.6 156.4,397.6 156.6,397.7 156.8,397.7 157.0,397.8 157.2,398.0 157.6,398.8 157.9,400.1 158.0,401.8 158.1,403.8 158.1,405.9 158.1,408.2 158.1,410.5 158.2,412.7 158.4,416.0 158.6,419.6 158.8,423.5 159.0,427.5 159.2,431.4 159.4,435.3 159.6,438.8 159.8,442.0 159.9,443.9 160.1,445.8 160.2,447.6 160.4,449.4 160.5,451.0 160.7,452.5 160.8,453.8 161.0,455.0 161.1,455.6 161.2,456.2 161.3,456.7 161.4,457.3 161.5,457.7 161.6,458.1 161.7,458.3 161.8,458.4 161.9,458.3 162.1,458.0 162.2,457.5 162.4,456.9 162.5,456.2 162.7,455.5 162.9,454.7 163.0,454.0 163.2,452.8 163.4,451.5 163.6,450.1 163.8,448.6 164.0,447.0 164.2,445.4 164.4,443.7 164.7,442.0 165.2,439.6 165.7,437.0 166.3,434.2 166.9,431.4 167.5,428.6 168.2,425.9 168.9,423.2 169.6,420.8 170.2,419.0 170.7,417.3 171.3,415.6 171.9,414.0 172.5,412.4 173.1,410.9 173.8,409.3 174.5,407.8 175.2,406.3 175.9,404.7 176.7,403.1 177.4,401.5 178.2,400.0 179.1,398.6 180.0,397.4 181.0,396.3 181.9,395.5 182.8,394.9 183.8,394.3 184.8,393.8 185.9,393.3 187.0,393.0 188.1,392.6 189.2,392.3 190.5,391.9 191.9,391.5 193.4,391.1 194.9,390.8 196.4,390.6 197.8,390.7 199.0,390.9 200.0,391.5 201.1,393.4 201.7,396.4 202.0,400.2 202.2,404.3 202.1,408.3 202.1,411.7 202.1,414.1 202.3,415.0 202.5,414.3 202.8,412.6 202.9,410.0 203.2,407.0 203.4,403.7 203.7,400.6 204.0,397.9 204.5,396.0 204.8,395.3 205.1,394.7 205.4,394.2 205.7,393.8 206.0,393.3 206.4,392.9 206.7,392.5 207.0,392.0" fill="none" stroke="#0000ff" stroke-width="2.6" stroke-linejoin="round" stroke-linecap="round"/><polyline points="207.0,397.5 208.8,386.2 210.7,397.0 212.5,385.7 214.3,396.5 216.1,385.2 218.0,395.9 219.8,384.7 221.6,395.4 223.4,384.2 225.3,394.9 227.1,383.6 228.9,394.4 230.7,383.1 232.6,393.8 234.4,382.6 236.2,393.3 238.0,382.1 239.9,392.8 241.7,381.5 243.5,392.3 245.3,381.0 247.2,391.8 249.0,380.5" fill="none" stroke="#0000ff" stroke-width="1.5" stroke-linejoin="round" stroke-linecap="round"/><polyline points="248.3,379.4 248.9,380.1 249.4,380.8 250.0,381.5 250.5,382.2 251.1,382.9 251.7,383.6 252.3,384.3 253.0,385.0 253.9,385.9 254.9,386.8 256.0,387.7 257.1,388.6 258.2,389.4 259.3,390.3 260.5,391.0 261.6,391.7 262.6,392.2 263.6,392.7 264.6,393.1 265.6,393.5 266.6,393.9 267.7,394.2 268.8,394.5 270.0,394.8 271.7,395.1 273.6,395.2 275.6,395.3 277.7,395.4 279.7,395.5 281.6,395.7 283.3,396.0 284.7,396.6 285.5,397.2 286.3,397.8 286.9,398.5 287.4,399.3 288.0,400.1 288.5,400.9 289.0,401.9 289.6,402.8 290.5,404.2 291.3,405.9 292.2,407.6 293.1,409.5 294.0,411.3 295.0,413.1 296.0,414.8 297.0,416.3 298.0,417.6 299.1,419.1 300.3,420.5 301.4,421.9 302.6,423.1 303.7,424.1 304.7,424.6 305.6,424.8 306.2,424.6 306.7,424.2 307.2,423.5 307.7,422.8 308.1,421.8 308.5,420.8 308.9,419.8 309.3,418.7 310.0,416.2 310.7,413.2 311.3,409.8 311.8,406.2 312.3,402.4 312.9,398.6 313.5,395.0 314.2,391.7 314.8,389.0 315.5,386.3 316.2,383.7 316.8,381.1 317.6,378.6 318.4,376.2 319.3,374.0 320.3,372.1 321.1,370.7 322.0,369.3 323.0,368.0 324.0,366.7 325.0,365.6 326.0,364.8 326.9,364.3 327.7,364.2 328.4,364.6 329.1,365.5 329.7,366.8 330.2,368.3 330.8,369.9 331.3,371.6 331.9,373.2 332.6,374.5 333.3,375.6 334.0,376.7 334.7,377.8 335.4,378.8 336.2,379.9 337.0,380.9 337.8,382.0 338.7,383.1 339.8,384.5 340.9,386.0 342.1,387.6 343.3,389.1 344.5,390.7 345.8,392.0 347.1,393.2 348.5,394.2 349.6,394.8 350.7,395.3 351.8,395.6 352.9,395.9 354.1,396.1 355.4,396.3 356.8,396.4 358.3,396.6 361.6,396.6 365.7,396.3 370.3,395.7 375.1,395.1 379.7,394.6 384.0,394.5 387.5,394.9 390.0,396.0 391.0,397.1 391.7,398.5 392.1,400.1 392.3,401.9 392.3,403.8 392.4,405.7 392.5,407.6 392.7,409.5 393.1,412.0 393.4,414.9 393.7,418.0 394.0,421.1 394.3,424.0 394.6,426.3 395.0,428.0 395.5,428.6 395.8,428.5 396.1,428.1 396.4,427.5 396.7,426.8 397.1,425.9 397.4,425.0 397.8,424.1 398.2,423.2 398.9,421.8 399.7,420.2 400.5,418.6 401.4,416.8 402.3,415.0 403.3,413.2 404.2,411.3 405.0,409.5 405.9,407.5 406.9,405.3 407.9,403.0 408.8,400.8 409.8,398.6 410.6,396.6 411.3,394.7 411.8,393.2 412.0,392.6 412.1,392.1 412.3,391.6 412.4,391.2 412.4,390.8 412.5,390.3 412.6,389.7 412.7,389.0 413.0,386.0 413.2,382.0 413.5,377.2 413.7,371.8 413.9,366.2 414.1,360.5 414.3,355.0 414.5,350.0 414.7,345.4 414.9,340.6 415.2,335.8 415.4,331.1 415.6,326.5 415.8,322.3 416.1,318.4 416.3,315.0 416.4,313.3 416.5,311.5 416.6,309.7 416.8,308.1 416.9,306.6 417.0,305.5 417.1,304.8 417.3,304.5 417.4,304.6 417.6,305.1 417.7,305.7 417.9,306.4 418.1,307.3 418.2,308.2 418.4,309.2 418.5,310.0 418.7,311.1 418.8,312.2 418.9,313.4 419.0,314.7 419.1,315.9 419.2,317.3 419.3,318.6 419.5,320.0 419.7,321.8 420.0,323.7 420.2,325.7 420.5,327.8 420.8,329.9 421.1,332.0 421.5,334.2 421.8,336.4 422.2,339.2 422.6,342.0 423.0,345.0 423.5,348.0 423.9,351.0 424.4,354.1 424.9,357.1 425.5,360.0 426.1,362.8 426.8,365.5 427.5,368.2 428.2,370.9 428.9,373.6 429.6,376.3 430.3,379.1 430.9,381.8 431.5,384.6 432.0,387.4 432.5,390.2 433.0,393.0 433.5,395.9 434.0,398.6 434.5,401.4 435.0,404.1 435.5,406.8 436.0,409.8 436.4,413.0 436.9,416.1 437.4,418.8 437.9,421.1 438.5,422.6 439.1,423.2 439.5,423.0 440.0,422.4 440.5,421.5 441.0,420.3 441.5,419.0 442.0,417.6 442.6,416.2 443.2,415.0 444.0,413.4 444.9,411.6 445.8,409.8 446.8,407.9 447.9,406.1 449.0,404.3 450.1,402.7 451.4,401.4 452.6,400.4 453.8,399.5 455.1,398.7 456.5,398.0 457.9,397.3 459.4,396.8 460.8,396.3 462.3,395.9 463.9,395.6 465.6,395.4 467.3,395.3 469.0,395.4 470.8,395.4 472.5,395.5 474.3,395.5 476.0,395.5" fill="none" stroke="#0000ff" stroke-width="2.6" stroke-linejoin="round" stroke-linecap="round"/>
<polyline points="51.8,287.5 52.0,288.1 52.1,288.6 52.3,289.1 52.4,289.7 52.6,290.2 52.7,290.8 52.9,291.4 53.0,292.0 53.2,292.9 53.4,293.9 53.5,294.9 53.7,295.9 53.9,297.0 54.0,298.0 54.2,299.0 54.3,300.0 54.4,300.8 54.5,301.6 54.6,302.3 54.7,303.1 54.8,303.8 54.8,304.5 54.9,305.3 55.0,306.0" fill="none" stroke="#ffcc00" stroke-width="3.2" stroke-linejoin="round" stroke-linecap="round"/><polyline points="55.0,300.0 55.2,303.7 55.4,307.5 55.6,311.2 55.8,315.0 56.0,318.7 56.2,322.5 56.4,326.2 56.5,330.0 56.6,333.7 56.7,337.4 56.8,341.1 56.8,344.7 56.9,348.4 56.9,352.2 57.0,356.0 57.0,360.0 57.0,364.8 57.1,369.7 57.1,374.8 57.1,379.9 57.1,385.1 57.1,390.2 57.2,395.2 57.3,400.0 57.4,404.2 57.5,408.4 57.6,412.5 57.7,416.6 57.9,420.6 58.0,424.4 58.3,428.0 58.6,431.4 58.9,433.8 59.2,436.2 59.5,438.5 59.8,440.8 60.2,442.8 60.5,444.7 61.0,446.4 61.4,447.7 61.6,448.2 61.8,448.6 62.1,449.0 62.3,449.3 62.5,449.6 62.7,449.9 63.0,450.2 63.2,450.5" fill="none" stroke="#ffcc00" stroke-width="1.1" stroke-linejoin="round" stroke-linecap="round"/><polyline points="50.4,300.0 50.4,306.3 50.4,312.6 50.4,318.9 50.4,325.2 50.4,331.4 50.5,337.7 50.5,343.9 50.5,350.0 50.5,355.7 50.6,361.4 50.6,367.0 50.6,372.6 50.7,378.2 50.7,383.8 50.8,389.4 50.8,395.0" fill="none" stroke="#ffcc00" stroke-width="1.0" stroke-linejoin="round" stroke-linecap="round"/><polyline points="63.2,450.5 63.9,448.6 64.5,446.6 65.2,444.7 65.9,442.7 66.6,440.8 67.2,438.8 67.9,436.9 68.6,435.0 69.3,433.1 69.9,431.3 70.6,429.4 71.3,427.5 71.9,425.7 72.6,423.9 73.4,422.2 74.1,420.5 74.8,419.1 75.5,417.6 76.2,416.3 77.0,414.9 77.7,413.6 78.5,412.3 79.2,411.1 80.0,410.0 80.6,409.2 81.2,408.4 81.9,407.6 82.5,406.9 83.1,406.2 83.7,405.5 84.4,404.8 85.0,404.0 85.7,403.1 86.3,402.1 86.9,401.0 87.5,400.0 88.2,399.0 88.9,398.0 89.6,397.2 90.5,396.5 91.5,396.0 92.6,395.6 93.7,395.3 94.9,395.1 96.1,394.9 97.4,394.8 98.7,394.6 100.0,394.5 101.6,394.4 103.5,394.3 105.4,394.3 107.3,394.4 109.2,394.4 110.8,394.3 112.2,394.1 113.2,393.8 113.5,393.6 113.7,393.5 113.9,393.3 114.0,393.1 114.2,392.9 114.3,392.6 114.4,392.4 114.5,392.0 114.8,390.4 115.1,388.2 115.2,385.5 115.3,382.5 115.3,379.3 115.3,376.0 115.4,372.9 115.5,370.0 115.7,367.4 115.8,364.7 116.0,362.0 116.1,359.4 116.3,356.8 116.5,354.3 116.7,352.1 117.0,350.0 117.2,348.8 117.4,347.6 117.6,346.4 117.8,345.4 118.0,344.4 118.2,343.5 118.5,342.7 118.8,342.0 119.0,341.7 119.1,341.4 119.3,341.1 119.5,340.9 119.7,340.7 119.9,340.5 120.0,340.4 120.2,340.4 120.4,340.5 120.6,340.8 120.8,341.1 121.0,341.6 121.2,342.2 121.4,342.8 121.6,343.4 121.8,344.0 122.1,345.3 122.4,346.8 122.7,348.5 123.0,350.3 123.3,352.2 123.6,354.1 124.0,356.0 124.5,357.8 125.1,359.7 125.7,361.6 126.4,363.5 127.2,365.4 128.0,367.2 128.8,369.1 129.6,370.8 130.4,372.4 131.1,373.6 131.8,374.8 132.5,376.0 133.2,377.1 133.9,378.1 134.7,379.2 135.4,380.1 136.2,381.1 136.9,381.9 137.6,382.7 138.3,383.5 139.0,384.2 139.8,384.9 140.5,385.6 141.2,386.3 142.0,386.9 142.7,387.5 143.4,388.0 144.1,388.6 144.9,389.1 145.6,389.6 146.4,390.1 147.2,390.6 148.0,391.0 149.1,391.4 150.2,391.8 151.5,392.1 152.8,392.4 154.0,392.7 155.1,393.0 156.0,393.5 156.7,394.0 157.0,394.4 157.2,394.8 157.3,395.3 157.4,395.8 157.4,396.3 157.4,396.8 157.4,397.4 157.5,398.0 157.6,399.0 157.8,400.1 157.9,401.3 158.0,402.5 158.1,403.8 158.2,405.1 158.4,406.5 158.5,408.0 158.7,410.3 159.0,412.8 159.2,415.6 159.5,418.4 159.7,421.2 160.0,424.0 160.3,426.6 160.6,429.0 160.8,430.7 161.0,432.4 161.3,434.0 161.5,435.6 161.7,437.1 162.0,438.5 162.2,439.8 162.5,441.0 162.7,441.7 162.8,442.5 163.0,443.2 163.2,443.9 163.3,444.5 163.5,445.0 163.7,445.3 163.9,445.4 164.1,445.3 164.3,445.1 164.5,444.7 164.7,444.2 164.9,443.7 165.1,443.1 165.3,442.5 165.5,442.0 165.8,441.2 166.1,440.3 166.4,439.3 166.7,438.3 167.0,437.2 167.3,436.1 167.6,435.0 168.0,433.9 168.5,432.4 169.1,430.8 169.6,429.2 170.2,427.5 170.9,425.8 171.5,424.1 172.2,422.4 172.9,420.8 173.6,419.1 174.4,417.4 175.1,415.7 175.9,414.0 176.7,412.4 177.5,410.8 178.4,409.2 179.4,407.8 180.3,406.6 181.3,405.4 182.3,404.3 183.3,403.3 184.4,402.3 185.5,401.3 186.5,400.4 187.6,399.6 188.5,398.9 189.5,398.3 190.4,397.8 191.3,397.2 192.3,396.7 193.2,396.3 194.1,395.9 195.0,395.5 195.7,395.2 196.4,394.8 197.0,394.5 197.7,394.2 198.3,393.9 198.9,393.8 199.5,393.8 200.0,394.0 200.7,395.2 201.2,397.4 201.6,400.3 201.8,403.6 201.9,406.7 202.1,409.4 202.2,411.3 202.5,412.0 202.8,411.5 203.1,410.1 203.4,408.1 203.7,405.6 204.1,402.9 204.4,400.0 204.7,397.4 205.0,395.0" fill="none" stroke="#ffcc00" stroke-width="4.2" stroke-linejoin="round" stroke-linecap="round"/><polyline points="207.0,396.5 208.8,387.3 210.7,396.1 212.5,386.8 214.3,395.6 216.1,386.4 218.0,395.2 219.8,386.0 221.6,394.8 223.4,385.5 225.3,394.3 227.1,385.1 228.9,393.9 230.7,384.7 232.6,393.5 234.4,384.2 236.2,393.0 238.0,383.8 239.9,392.6 241.7,383.4 243.5,392.2 245.3,382.9 247.2,391.7 249.0,382.5" fill="none" stroke="#ffcc00" stroke-width="2.2" stroke-linejoin="round" stroke-linecap="round"/><polyline points="248.5,381.0 249.0,381.6 249.6,382.3 250.1,382.9 250.6,383.5 251.1,384.1 251.7,384.8 252.3,385.4 253.0,386.0 253.9,386.8 254.9,387.6 255.9,388.4 256.9,389.2 258.1,390.0 259.3,390.7 260.6,391.4 262.0,392.0 264.3,392.6 267.1,393.0 270.2,393.2 273.3,393.3 276.5,393.5 279.4,393.8 281.9,394.2 284.0,395.0 285.0,395.6 285.8,396.3 286.5,397.1 287.2,397.9 287.8,398.7 288.3,399.6 288.9,400.6 289.6,401.5 290.5,402.8 291.4,404.2 292.2,405.6 293.1,407.1 294.0,408.7 295.0,410.2 296.0,411.6 297.0,413.0 298.2,414.4 299.4,416.0 300.8,417.6 302.1,419.1 303.5,420.5 304.7,421.6 305.9,422.2 306.8,422.4 307.4,422.2 307.8,421.7 308.3,421.0 308.6,420.2 309.0,419.2 309.3,418.2 309.6,417.1 310.0,416.0 310.6,413.8 311.2,411.2 311.7,408.3 312.2,405.2 312.7,402.0 313.3,398.8 313.8,395.8 314.5,393.0 315.1,390.7 315.7,388.4 316.3,386.0 317.0,383.8 317.7,381.6 318.5,379.6 319.3,377.7 320.3,376.0 321.2,374.7 322.2,373.3 323.3,372.0 324.4,370.8 325.5,369.8 326.5,369.0 327.5,368.5 328.4,368.4 329.1,368.8 329.7,369.5 330.3,370.6 330.8,371.8 331.3,373.2 331.8,374.6 332.4,375.9 333.0,377.0 333.7,378.0 334.4,378.9 335.1,379.9 335.8,380.8 336.5,381.7 337.3,382.6 338.1,383.6 339.0,384.5 340.0,385.7 341.1,386.9 342.3,388.1 343.5,389.4 344.7,390.6 345.9,391.7 347.2,392.7 348.5,393.5 349.6,394.1 350.7,394.5 351.8,394.9 352.9,395.2 354.1,395.4 355.4,395.6 356.8,395.8 358.3,396.0 361.4,396.2 364.9,396.3 368.8,396.3 373.0,396.1 377.3,396.0 381.6,395.8 385.9,395.6 390.0,395.5" fill="none" stroke="#ffcc00" stroke-width="4.2" stroke-linejoin="round" stroke-linecap="round"/><polyline points="390.0,395.5 390.3,396.7 390.7,397.8 391.0,399.0 391.4,400.1 391.7,401.3 392.0,402.5 392.4,403.7 392.7,405.0 393.1,406.8 393.4,408.9 393.6,411.2 393.9,413.5 394.2,415.6 394.6,417.3 395.0,418.5 395.5,419.1 395.8,419.1 396.2,418.9 396.5,418.6 396.9,418.2 397.3,417.7 397.7,417.1 398.1,416.5 398.5,416.0 399.2,415.0 400.0,414.0 400.8,412.7 401.6,411.4 402.5,410.1 403.3,408.7 404.2,407.3 405.0,406.0 405.9,404.6 406.9,403.1 407.8,401.6 408.8,400.0 409.7,398.5 410.5,397.0 411.2,395.5 411.8,394.0 412.1,392.9 412.4,391.8 412.5,390.8 412.6,389.8 412.7,388.7 412.8,387.6 412.9,386.4 413.0,385.0 413.3,382.1 413.5,378.6 413.8,374.9 414.0,370.8 414.2,366.7 414.5,362.6 414.7,358.7 415.0,355.0 415.2,351.9 415.5,348.7 415.7,345.6 416.0,342.5 416.2,339.6 416.5,336.8 416.7,334.3 417.0,332.0 417.1,330.8 417.3,329.5 417.4,328.2 417.5,327.1 417.7,326.1 417.8,325.2 418.0,324.7 418.2,324.5 418.3,324.6 418.5,324.8 418.7,325.2 418.8,325.6 419.0,326.2 419.2,326.8 419.3,327.4 419.5,328.0 419.9,329.5 420.2,331.4 420.6,333.5 420.9,335.8 421.3,338.1 421.7,340.5 422.1,342.8 422.5,345.0 422.9,346.9 423.3,348.8 423.7,350.7 424.2,352.5 424.6,354.4 425.1,356.2 425.5,358.1 426.0,360.0 426.5,362.0 427.0,363.9 427.5,365.9 428.0,367.8 428.5,369.8 429.0,371.8 429.5,373.9 430.0,376.0 430.6,378.6 431.2,381.3 431.9,384.0 432.5,386.9 433.2,389.7 433.8,392.5 434.4,395.3 435.0,398.0 435.5,400.8 436.0,403.9 436.4,407.1 436.8,410.2 437.3,413.0 437.8,415.4 438.4,417.0 439.1,417.7 439.6,417.6 440.1,417.2 440.6,416.6 441.1,415.8 441.7,414.9 442.3,413.9 442.9,412.9 443.5,412.0 444.4,410.7 445.2,409.2 446.1,407.5 447.1,405.8 448.0,404.2 449.1,402.6 450.2,401.2 451.4,400.0 452.6,399.1 453.8,398.3 455.2,397.7 456.5,397.1 457.9,396.6 459.4,396.2 460.8,395.8 462.3,395.5 463.9,395.3 465.6,395.1 467.3,395.1 469.0,395.2 470.8,395.3 472.5,395.4 474.3,395.5 476.0,395.5" fill="none" stroke="#ffcc00" stroke-width="3.3" stroke-linejoin="round" stroke-linecap="round"/>
<polyline points="50.7,390.0 50.8,389.2 50.8,388.4 50.9,387.6 50.9,386.8 51.0,386.1 51.0,385.3 51.1,384.6 51.2,384.0 51.3,383.6 51.3,383.2 51.4,382.8 51.4,382.4 51.5,382.0 51.6,381.8 51.7,381.6 51.8,381.5 51.9,381.5 52.1,381.7 52.2,381.9 52.4,382.1 52.5,382.5 52.7,382.8 52.8,383.1 53.0,383.5 53.3,384.2 53.5,385.0 53.8,385.9 54.1,386.9 54.4,388.0 54.6,389.0 54.9,390.0 55.2,391.0" fill="none" stroke="#ff0000" stroke-width="3" stroke-linejoin="round" stroke-linecap="round"/><polyline points="51.8,383.5 51.9,383.7 52.1,384.0 52.2,384.2 52.4,384.4 52.5,384.7 52.7,384.9 52.8,385.2 53.0,385.5 53.3,386.1 53.5,386.8 53.8,387.6 54.1,388.5 54.4,389.4 54.6,390.3 54.9,391.1 55.2,392.0 55.5,392.9 55.8,393.9 56.1,394.8 56.4,395.8 56.7,396.7 57.0,397.7 57.4,398.6 57.7,399.5 58.0,400.3 58.3,401.1 58.6,401.9 58.9,402.7 59.3,403.4 59.7,404.1 60.1,404.8 60.5,405.5 61.0,406.1 61.5,406.7 62.0,407.2 62.5,407.8 63.1,408.3 63.7,408.7 64.3,409.1 65.0,409.5 65.8,409.8 66.6,410.1 67.5,410.3 68.4,410.5 69.3,410.6 70.3,410.7 71.3,410.8 72.3,410.8 73.6,410.8 74.9,410.7 76.3,410.5 77.7,410.3 79.2,410.1 80.6,409.8 82.1,409.6 83.6,409.3 85.2,409.0 86.9,408.7 88.6,408.3 90.3,407.9 92.1,407.5 93.8,407.1 95.6,406.8 97.3,406.4 99.2,406.1 101.2,405.8 103.3,405.5 105.4,405.2 107.3,404.8 109.1,404.5 110.7,404.0 112.0,403.5 112.5,403.2 113.0,402.9 113.4,402.5 113.7,402.2 114.1,401.8 114.4,401.4 114.7,401.0 115.0,400.5 115.4,399.8 115.8,399.0 116.1,398.2 116.5,397.3 116.8,396.4 117.1,395.5 117.5,394.7 118.0,394.0 118.4,393.5 118.9,393.0 119.4,392.5 119.8,392.1 120.4,391.7 120.9,391.3 121.4,390.9 122.0,390.5 122.7,390.0 123.3,389.5 124.0,389.0 124.7,388.6 125.5,388.1 126.3,387.7 127.1,387.3 128.0,387.0 129.3,386.7 130.6,386.5 132.1,386.3 133.6,386.2 135.2,386.2 136.8,386.2 138.4,386.2 140.0,386.2 142.0,386.2 144.2,386.2 146.6,386.2 148.9,386.2 151.2,386.4 153.2,386.6 155.1,387.0 156.5,387.5 157.1,387.9 157.7,388.3 158.1,388.8 158.5,389.3 158.9,389.8 159.2,390.4 159.6,390.9 160.0,391.5 160.5,392.1 161.0,392.8 161.4,393.5 161.9,394.3 162.4,395.0 162.9,395.7 163.4,396.4 164.0,397.0 164.7,397.6 165.4,398.3 166.1,398.9 166.9,399.5 167.6,400.1 168.4,400.6 169.2,401.1 170.0,401.5 170.7,401.8 171.3,402.0 172.0,402.2 172.6,402.4 173.3,402.5 174.0,402.6 174.8,402.7 175.6,402.8 176.8,402.9 178.2,402.9 179.6,402.8 181.1,402.7 182.6,402.6 184.2,402.5 185.7,402.3 187.2,402.2 188.7,402.1 190.2,402.0 191.6,401.9 193.0,401.7 194.6,401.6 196.2,401.4 198.0,401.2 200.0,400.9 205.0,400.0 211.0,398.7 217.8,397.1 225.1,395.4 232.4,393.8 239.4,392.4 245.9,391.3 251.3,390.7 254.1,390.6 256.7,390.7 259.1,390.9 261.4,391.1 263.5,391.4 265.7,391.7 267.8,392.0 270.0,392.2 271.9,392.3 273.9,392.3 275.8,392.3 277.7,392.3 279.5,392.3 281.3,392.4 283.0,392.7 284.7,393.0 286.0,393.4 287.3,394.0 288.5,394.6 289.6,395.3 290.8,396.0 292.0,396.7 293.2,397.3 294.5,397.9 296.1,398.6 297.7,399.3 299.5,400.0 301.2,400.7 302.9,401.3 304.7,401.7 306.4,402.0 308.0,402.0 309.5,401.8 310.9,401.3 312.2,400.6 313.6,399.9 315.0,399.0 316.3,398.2 317.7,397.4 319.1,396.6 320.6,395.8 322.1,395.0 323.6,394.1 325.1,393.3 326.6,392.4 328.2,391.7 329.7,391.0 331.3,390.5 332.8,390.1 334.2,389.9 335.7,389.7 337.2,389.6 338.7,389.5 340.3,389.5 341.9,389.5 343.6,389.5 346.0,389.6 348.5,389.8 351.1,390.0 353.8,390.3 356.6,390.7 359.4,391.0 362.2,391.3 365.0,391.5 368.2,391.6 371.6,391.6 375.2,391.4 378.8,391.3 382.2,391.3 385.3,391.5 387.9,391.8 390.0,392.5 390.8,393.0 391.3,393.6 391.8,394.3 392.2,395.0 392.5,395.7 393.0,396.4 393.5,397.0 394.1,397.5 395.2,398.0 396.4,398.4 397.8,398.6 399.3,398.8 400.8,399.0 402.3,399.0 403.7,399.0 405.0,399.0 406.0,399.0 407.1,398.9 408.1,398.9 409.1,398.8 410.1,398.6 411.0,398.4 411.8,398.0 412.5,397.5 413.2,396.7 413.6,395.7 414.0,394.6 414.3,393.3 414.6,392.0 414.9,390.8 415.3,389.6 415.9,388.5 416.6,387.5 417.3,386.5 418.1,385.5 419.0,384.6 419.9,383.7 420.8,383.0 421.8,382.4 422.7,382.0 423.5,381.8 424.4,381.7 425.2,381.8 426.1,381.9 427.0,382.1 427.8,382.4 428.7,382.7 429.5,383.0 430.4,383.5 431.2,384.1 432.1,384.8 432.9,385.6 433.7,386.3 434.6,387.1 435.5,387.9 436.4,388.5 437.5,389.1 438.6,389.8 439.8,390.4 441.0,390.9 442.2,391.5 443.4,392.0 444.6,392.4 445.9,392.8 447.2,393.1 448.5,393.4 449.8,393.6 451.1,393.8 452.4,393.9 453.8,394.0 455.3,394.1 456.8,394.2 458.9,394.3 461.2,394.4 463.6,394.4 466.1,394.4 468.6,394.4 471.1,394.4 473.6,394.4 476.0,394.4" fill="none" stroke="#ff0000" stroke-width="7" stroke-linejoin="round" stroke-linecap="round"/>
<rect x="48.7" y="288.3" width="52.599999999999994" height="206.09999999999997" fill="none" stroke="#111" stroke-width="1.5" stroke-dasharray="4.0,3.8"/>
<rect x="109.7" y="323.1" width="83.2" height="139.89999999999998" fill="none" stroke="#111" stroke-width="1.5" stroke-dasharray="4.0,3.8"/>
<rect x="197.2" y="372.7" width="73.60000000000002" height="48.5" fill="none" stroke="#111" stroke-width="1.5" stroke-dasharray="4.0,3.8"/>
<rect x="279.9" y="361.0" width="86.70000000000005" height="67.80000000000001" fill="none" stroke="#111" stroke-width="1.5" stroke-dasharray="4.0,3.8"/>
<rect x="383.3" y="301.8" width="86.89999999999998" height="132.39999999999998" fill="none" stroke="#111" stroke-width="1.5" stroke-dasharray="4.0,3.8"/>
<line x1="110.6" y1="305.1" x2="104.5" y2="306.4" stroke="#111" stroke-width="1.2"/><polygon points="101.6,307.0 104.2,304.8 104.9,307.9" fill="#111"/>
<line x1="167.3" y1="470.3" x2="169.0" y2="466.2" stroke="#111" stroke-width="1.2"/><polygon points="170.2,463.4 170.5,466.8 167.6,465.5" fill="#111"/>
<line x1="241.6" y1="435.4" x2="238.8" y2="424.5" stroke="#111" stroke-width="1.2"/><polygon points="238.1,421.6 240.4,424.1 237.3,424.9" fill="#111"/>
<line x1="332.8" y1="442.1" x2="330.0" y2="432.1" stroke="#111" stroke-width="1.2"/><polygon points="329.2,429.2 331.5,431.7 328.5,432.5" fill="#111"/>
<line x1="428.1" y1="447.5" x2="425.7" y2="437.5" stroke="#111" stroke-width="1.2"/><polygon points="425.0,434.6 427.3,437.1 424.1,437.9" fill="#111"/>
<rect x="153.5" y="282.5" width="305.3" height="17.4" fill="#fff" stroke="#a6a6a6" stroke-width="1"/>
<line x1="154.5" y1="290.8" x2="164.8" y2="290.8" stroke="#00ff00" stroke-width="1.2"/>
<line x1="217.4" y1="290.8" x2="227.7" y2="290.8" stroke="#0000ff" stroke-width="1.2"/>
<line x1="319" y1="290.8" x2="329" y2="290.8" stroke="#ffcc00" stroke-width="1.2"/>
<line x1="379.2" y1="290.8" x2="388.5" y2="290.8" stroke="#ff0000" stroke-width="1.2"/>
<text x="166.4" y="292.8" font-size="8.5"><tspan font-style="italic">i</tspan><tspan font-size="6.9" font-style="italic" dy="2.6">Loss</tspan><tspan dy="-2.6"> with PSO</tspan></text>
<text x="229.6" y="292.8" font-size="8.5"><tspan font-style="italic">i</tspan><tspan font-size="6.9" font-style="italic" dy="2.6">Loss</tspan><tspan dy="-2.6"> without optimization</tspan></text>
<text x="331.6" y="292.8" font-size="8.5"><tspan font-style="italic">i</tspan><tspan font-size="6.9" font-style="italic" dy="2.6">Loss</tspan><tspan dy="-2.6"> with GA</tspan></text>
<text x="391.0" y="292.8" font-size="8.5"><tspan font-style="italic">i</tspan><tspan font-size="6.9" font-style="italic" dy="2.6">Loss</tspan><tspan dy="-2.6"> with MOGHO</tspan></text>
<text x="47" y="13.5" font-size="12.8" text-anchor="end">720</text>
<text x="47" y="55.3" font-size="12.8" text-anchor="end">710</text>
<text x="47" y="97.1" font-size="12.8" text-anchor="end">700</text>
<text x="47" y="138.9" font-size="12.8" text-anchor="end">690</text>
<text x="47" y="180.7" font-size="12.8" text-anchor="end">680</text>
<text x="47" y="222.5" font-size="12.8" text-anchor="end">670</text>
<text x="135.9" y="233.3" font-size="12.8" text-anchor="middle">0.2</text>
<text x="221.3" y="233.3" font-size="12.8" text-anchor="middle">0.4</text>
<text x="306.7" y="233.3" font-size="12.8" text-anchor="middle">0.6</text>
<text x="392.1" y="233.3" font-size="12.8" text-anchor="middle">0.8</text>
<text x="477.5" y="233.3" font-size="12.8" text-anchor="middle">1.0</text>
<text x="47" y="311.4" font-size="12.8" text-anchor="end">20</text>
<text x="47" y="352.8" font-size="12.8" text-anchor="end">10</text>
<text x="47" y="394.2" font-size="12.8" text-anchor="end">0</text>
<text x="47" y="435.6" font-size="12.8" text-anchor="end">-10</text>
<text x="47" y="477.0" font-size="12.8" text-anchor="end">-20</text>
<text x="50.6" y="507.6" font-size="12.8" text-anchor="middle">0</text>
<text x="135.8" y="507.6" font-size="12.8" text-anchor="middle">0.2</text>
<text x="221.0" y="507.6" font-size="12.8" text-anchor="middle">0.4</text>
<text x="306.2" y="507.6" font-size="12.8" text-anchor="middle">0.6</text>
<text x="391.4" y="507.6" font-size="12.8" text-anchor="middle">0.8</text>
<text x="476.6" y="507.6" font-size="12.8" text-anchor="middle">1.0</text>
<text x="264" y="250" font-size="14.6" font-weight="bold" text-anchor="middle">Time(s)</text>
<text x="263.5" y="523.1" font-size="14.6" font-weight="bold" text-anchor="middle">Time(s)</text>
<text x="246" y="271" font-size="12" font-weight="bold" text-anchor="middle">(a)</text>
<text x="245.5" y="545" font-size="12" font-weight="bold" text-anchor="middle">(b)</text>
<text transform="translate(15.9,133.7) rotate(-90)" font-size="14" font-weight="bold">V</text>
<text transform="translate(23.4,124.2) rotate(-90)" font-size="11.3" font-weight="bold">dc</text>
<text transform="translate(16.2,111.8) rotate(-90)" font-size="14" font-weight="bold">(V)</text>
<text transform="translate(18,413.6) rotate(-90)" font-size="14" font-weight="bold" font-style="italic">i</text>
<text transform="translate(25.4,408.2) rotate(-90)" font-size="11.5" font-weight="bold" font-style="italic">Loss</text>
<text transform="translate(17.9,383) rotate(-90)" font-size="11.5">(A)</text>
<text x="58.2" y="203.5" font-size="8.45">V<tspan font-size="6.6" dy="3">dc</tspan><tspan dy="-3"> during</tspan></text><text x="58.2" y="216.3" font-size="8.45">Initial Transients</text>
<text x="121.1" y="202" font-size="8.45">V<tspan font-size="6.6" dy="3">dc</tspan><tspan dy="-3"> during</tspan></text><text x="121.1" y="214.3" font-size="8.45">Irradiation Variations</text>
<text x="211" y="155.7" font-size="8.45">V<tspan font-size="6.6" dy="3">dc</tspan><tspan dy="-3"> during</tspan></text><text x="211" y="168.4" font-size="8.45">Unbalanced Load</text>
<text x="304.1" y="163.6" font-size="8.45">V<tspan font-size="6.6" dy="3">dc</tspan><tspan dy="-3"> during</tspan></text><text x="304.1" y="176.9" font-size="8.45">Fixed Power mode</text>
<text x="393.3" y="197.6" font-size="8.45">V<tspan font-size="6.6" dy="3">dc</tspan><tspan dy="-3"> during Abnormal</tspan></text><text x="393.3" y="209.9" font-size="8.45">Grid voltage</text>
<text x="111.2" y="302" font-size="8.45">i<tspan font-size="6.6" dy="3">Loss</tspan><tspan dy="-3"> during</tspan></text><text x="111.2" y="314.8" font-size="8.45">Initial Transients</text>
<text x="130.4" y="477.1" font-size="8.45">i<tspan font-size="6.6" dy="3">Loss</tspan><tspan dy="-3"> during</tspan></text><text x="130.4" y="489.8" font-size="8.45">Irradiation Variations</text>
<text x="211" y="442.6" font-size="8.45">i<tspan font-size="6.6" dy="3">Loss</tspan><tspan dy="-3"> during</tspan></text><text x="211" y="454.9" font-size="8.45">Unbalanced Load</text>
<text x="300.4" y="450.7" font-size="8.45">i<tspan font-size="6.6" dy="3">Loss</tspan><tspan dy="-3">during</tspan></text><text x="300.4" y="463.4" font-size="8.45">Fixed Power mode</text>
<text x="389.2" y="455.7" font-size="8.45">i<tspan font-size="6.6" dy="3">Loss</tspan><tspan dy="-3"> during Abnormal</tspan></text><text x="389.2" y="468.4" font-size="8.45">Grid voltage</text>
</svg>
</body></html>
